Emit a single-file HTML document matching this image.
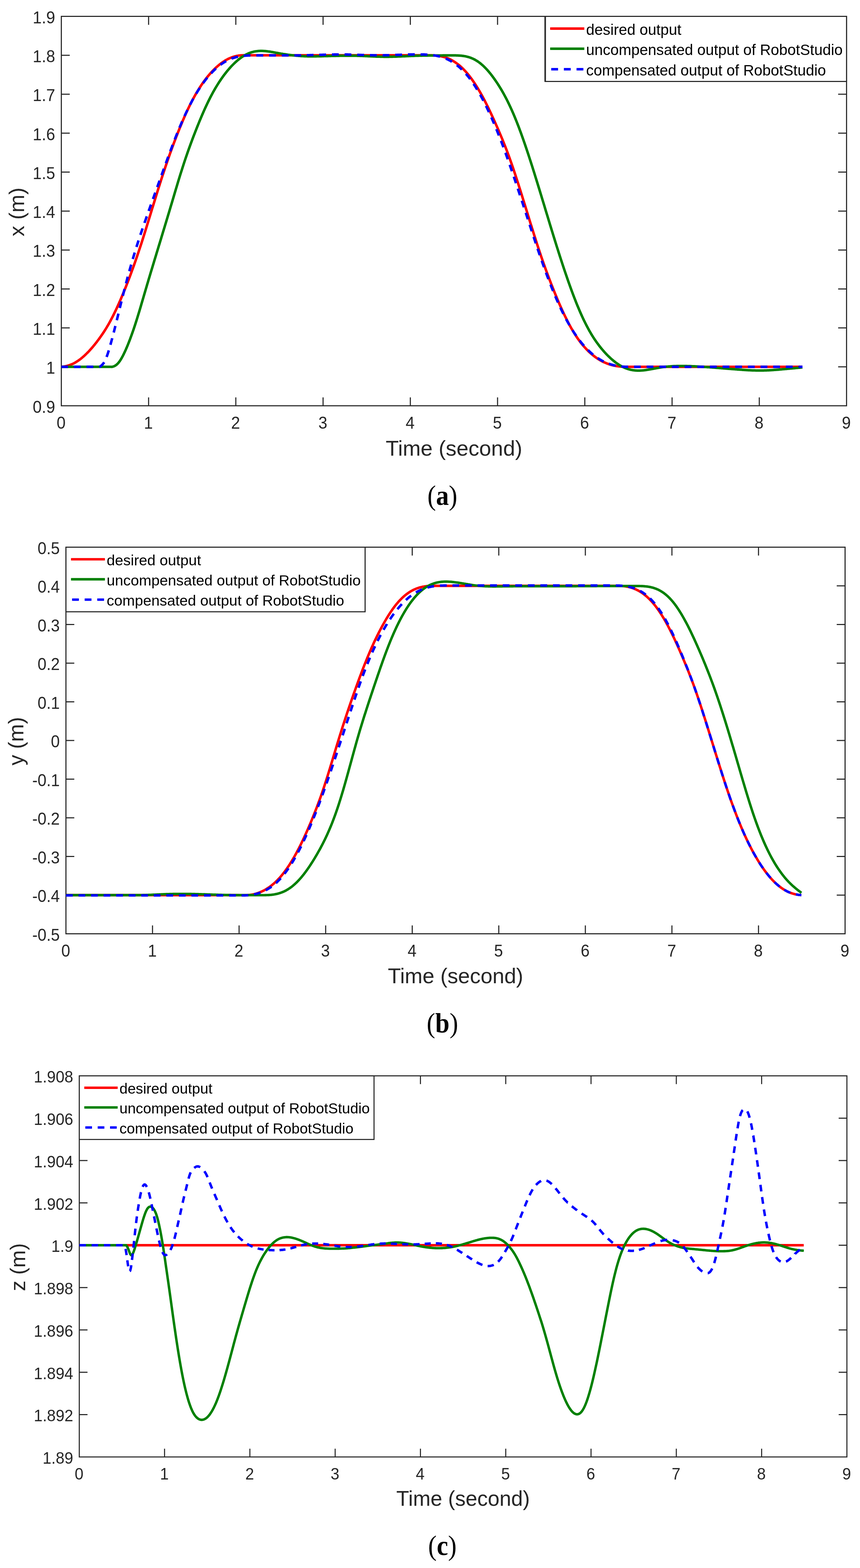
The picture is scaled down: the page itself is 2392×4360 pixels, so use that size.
<!DOCTYPE html>
<html lang="en"><head><meta charset="utf-8"><title>Figure</title>
<style>html,body{margin:0;padding:0;background:#fff}svg{display:block}text{font-family:"Liberation Sans",sans-serif}.cap{font-family:"Liberation Serif",serif;fill:#000}.tk{fill:#262626}.lg{fill:#000}</style></head><body>
<svg width="2392" height="4360" viewBox="0 0 2392 4360">
<rect width="2392" height="4360" fill="#fff"/>
<g id="plot-a">
<path d="M413.3,1128.3 v-23.4 M413.3,45.5 v23.4 M655.9,1128.3 v-23.4 M655.9,45.5 v23.4 M898.6,1128.3 v-23.4 M898.6,45.5 v23.4 M1141.3,1128.3 v-23.4 M1141.3,45.5 v23.4 M1383.9,1128.3 v-23.4 M1383.9,45.5 v23.4 M1626.6,1128.3 v-23.4 M1626.6,45.5 v23.4 M1869.3,1128.3 v-23.4 M1869.3,45.5 v23.4 M2111.9,1128.3 v-23.4 M2111.9,45.5 v23.4 M170.6,1020 h23.4 M2354.6,1020 h-23.4 M170.6,911.7 h23.4 M2354.6,911.7 h-23.4 M170.6,803.5 h23.4 M2354.6,803.5 h-23.4 M170.6,695.2 h23.4 M2354.6,695.2 h-23.4 M170.6,586.9 h23.4 M2354.6,586.9 h-23.4 M170.6,478.6 h23.4 M2354.6,478.6 h-23.4 M170.6,370.3 h23.4 M2354.6,370.3 h-23.4 M170.6,262.1 h23.4 M2354.6,262.1 h-23.4 M170.6,153.8 h23.4 M2354.6,153.8 h-23.4" stroke="#262626" stroke-width="3" fill="none"/>
<rect x="170.6" y="45.5" width="2184" height="1082.8" fill="none" stroke="#262626" stroke-width="3"/>
<g fill="none" stroke-linejoin="round" stroke-width="7">
<path d="M170.6,1019.9 172.6,1019.7 174.6,1019.5 176.6,1019.3 178.6,1019 180.6,1018.7 182.6,1018.3 184.6,1017.8 186.6,1017.3 188.6,1016.8 190.6,1016.2 192.6,1015.6 194.6,1014.9 196.6,1014.1 198.6,1013.3 200.6,1012.5 202.6,1011.6 204.6,1010.6 206.6,1009.6 208.6,1008.5 210.6,1007.3 212.6,1006.1 214.6,1004.8 216.6,1003.5 218.6,1002.1 220.6,1000.7 222.6,999.2 224.6,997.7 226.6,996.1 228.6,994.4 230.6,992.7 232.6,991 234.6,989.2 236.6,987.3 238.6,985.4 240.6,983.4 242.6,981.4 244.7,979.4 246.7,977.3 248.7,975.1 250.7,972.9 252.7,970.7 254.7,968.4 256.7,966.1 258.7,963.7 260.7,961.3 262.7,958.9 264.7,956.4 266.7,953.9 268.7,951.3 270.7,948.7 272.7,946 274.7,943.4 276.7,940.6 278.7,937.8 280.7,935 282.7,932.1 284.7,929.2 286.7,926.2 288.7,923.2 290.7,920.1 292.7,917 294.7,913.7 296.7,910.5 298.7,907.1 300.7,903.7 302.7,900.2 304.7,896.6 306.7,893 308.7,889.2 310.7,885.4 312.7,881.6 314.7,877.6 316.7,873.6 318.7,869.5 320.7,865.4 322.7,861.2 324.7,856.9 326.7,852.5 328.7,848.1 330.7,843.7 332.7,839.1 334.7,834.6 336.7,829.9 338.7,825.2 340.7,820.4 342.7,815.6 344.7,810.8 346.7,805.9 348.7,800.9 350.7,795.9 352.7,790.8 354.7,785.7 356.7,780.5 358.7,775.3 360.7,770 362.7,764.7 364.7,759.3 366.7,753.9 368.7,748.4 370.7,742.9 372.7,737.3 374.7,731.6 376.7,725.9 378.7,720.1 380.7,714.3 382.7,708.4 384.7,702.5 386.7,696.5 388.7,690.4 390.7,684.3 392.8,678.1 394.8,671.9 396.8,665.6 398.8,659.3 400.8,653 402.8,646.6 404.8,640.2 406.8,633.7 408.8,627.3 410.8,620.8 412.8,614.3 414.8,607.8 416.8,601.2 418.8,594.7 420.8,588.2 422.8,581.6 424.8,575.1 426.8,568.6 428.8,562.1 430.8,555.6 432.8,549.1 434.8,542.7 436.8,536.2 438.8,529.8 440.8,523.4 442.8,517.1 444.8,510.8 446.8,504.5 448.8,498.3 450.8,492.1 452.8,485.9 454.8,479.8 456.8,473.8 458.8,467.8 460.8,461.8 462.8,456 464.8,450.1 466.8,444.3 468.8,438.6 470.8,433 472.8,427.3 474.8,421.8 476.8,416.3 478.8,410.8 480.8,405.4 482.8,400.1 484.8,394.7 486.8,389.5 488.8,384.3 490.8,379.1 492.8,374 494.8,368.9 496.8,363.9 498.8,358.9 500.8,354 502.8,349.1 504.8,344.3 506.8,339.5 508.8,334.7 510.8,330.1 512.8,325.4 514.8,320.9 516.8,316.4 518.8,312 520.8,307.7 522.8,303.4 524.8,299.2 526.8,295.1 528.8,291 530.8,287 532.8,283.1 534.8,279.2 536.8,275.5 538.9,271.8 540.9,268.1 542.9,264.6 544.9,261.1 546.9,257.6 548.9,254.3 550.9,251 552.9,247.7 554.9,244.6 556.9,241.5 558.9,238.4 560.9,235.4 562.9,232.5 564.9,229.7 566.9,226.9 568.9,224.1 570.9,221.5 572.9,218.8 574.9,216.3 576.9,213.8 578.9,211.3 580.9,208.9 582.9,206.6 584.9,204.3 586.9,202 588.9,199.9 590.9,197.7 592.9,195.7 594.9,193.6 596.9,191.7 598.9,189.7 600.9,187.9 602.9,186 604.9,184.3 606.9,182.5 608.9,180.9 610.9,179.2 612.9,177.7 614.9,176.1 616.9,174.7 618.9,173.3 620.9,171.9 622.9,170.6 624.9,169.3 626.9,168.1 628.9,166.9 630.9,165.8 632.9,164.7 634.9,163.7 636.9,162.8 638.9,161.9 640.9,161 642.9,160.2 644.9,159.4 646.9,158.7 648.9,158.1 650.9,157.5 652.9,156.9 654.9,156.4 656.9,155.9 658.9,155.5 660.9,155.2 662.9,154.8 664.9,154.5 666.9,154.3 668.9,154.1 670.9,154 672.9,153.8 674.9,153.7 676.9,153.7 678.9,153.7 680.9,153.6 682.9,153.7 684.9,153.7 687,153.7 689,153.7 691,153.7 693,153.7 695,153.7 697,153.8 699,153.8 701,153.8 703,153.8 705,153.8 707,153.8 709,153.8 711,153.8 713,153.8 715,153.8 717,153.8 719,153.8 721,153.8 723,153.8 725,153.8 727,153.8 729,153.8 731,153.8 733,153.8 735,153.8 737,153.8 739,153.8 741,153.8 743,153.8 745,153.8 747,153.8 749,153.8 751,153.8 753,153.8 755,153.8 757,153.8 759,153.8 761,153.8 763,153.8 765,153.8 767,153.8 769,153.8 771,153.8 773,153.8 775,153.8 777,153.8 779,153.8 781,153.8 783,153.8 785,153.8 787,153.8 789,153.8 791,153.8 793,153.8 795,153.8 797,153.8 799,153.8 801,153.8 803,153.8 805,153.8 807,153.8 809,153.8 811,153.8 813,153.8 815,153.8 817,153.8 819,153.8 821,153.8 823,153.8 825,153.8 827,153.8 829,153.8 831,153.8 833,153.8 835.1,153.8 837.1,153.8 839.1,153.8 841.1,153.8 843.1,153.8 845.1,153.8 847.1,153.8 849.1,153.8 851.1,153.8 853.1,153.8 855.1,153.8 857.1,153.8 859.1,153.8 861.1,153.8 863.1,153.8 865.1,153.8 867.1,153.8 869.1,153.8 871.1,153.8 873.1,153.8 875.1,153.8 877.1,153.8 879.1,153.8 881.1,153.8 883.1,153.8 885.1,153.8 887.1,153.8 889.1,153.8 891.1,153.8 893.1,153.8 895.1,153.8 897.1,153.8 899.1,153.8 901.1,153.8 903.1,153.8 905.1,153.8 907.1,153.8 909.1,153.8 911.1,153.8 913.1,153.8 915.1,153.8 917.1,153.8 919.1,153.8 921.1,153.8 923.1,153.8 925.1,153.8 927.1,153.8 929.1,153.8 931.1,153.8 933.1,153.8 935.1,153.8 937.1,153.8 939.1,153.8 941.1,153.8 943.1,153.8 945.1,153.8 947.1,153.8 949.1,153.8 951.1,153.8 953.1,153.8 955.1,153.8 957.1,153.8 959.1,153.8 961.1,153.8 963.1,153.8 965.1,153.8 967.1,153.8 969.1,153.8 971.1,153.8 973.1,153.8 975.1,153.8 977.1,153.8 979.1,153.8 981.2,153.8 983.2,153.8 985.2,153.8 987.2,153.8 989.2,153.8 991.2,153.8 993.2,153.8 995.2,153.8 997.2,153.8 999.2,153.8 1001.2,153.8 1003.2,153.8 1005.2,153.8 1007.2,153.8 1009.2,153.8 1011.2,153.8 1013.2,153.8 1015.2,153.8 1017.2,153.8 1019.2,153.8 1021.2,153.8 1023.2,153.8 1025.2,153.8 1027.2,153.8 1029.2,153.8 1031.2,153.8 1033.2,153.8 1035.2,153.8 1037.2,153.8 1039.2,153.8 1041.2,153.8 1043.2,153.8 1045.2,153.8 1047.2,153.8 1049.2,153.8 1051.2,153.8 1053.2,153.8 1055.2,153.8 1057.2,153.8 1059.2,153.8 1061.2,153.8 1063.2,153.8 1065.2,153.8 1067.2,153.8 1069.2,153.8 1071.2,153.8 1073.2,153.8 1075.2,153.8 1077.2,153.8 1079.2,153.8 1081.2,153.8 1083.2,153.8 1085.2,153.8 1087.2,153.8 1089.2,153.8 1091.2,153.8 1093.2,153.8 1095.2,153.8 1097.2,153.8 1099.2,153.8 1101.2,153.8 1103.2,153.8 1105.2,153.8 1107.2,153.8 1109.2,153.8 1111.2,153.8 1113.2,153.8 1115.2,153.8 1117.2,153.8 1119.2,153.8 1121.2,153.8 1123.2,153.8 1125.2,153.8 1127.2,153.8 1129.3,153.8 1131.3,153.8 1133.3,153.8 1135.3,153.8 1137.3,153.8 1139.3,153.8 1141.3,153.8 1143.3,153.8 1145.3,153.8 1147.3,153.8 1149.3,153.8 1151.3,153.8 1153.3,153.8 1155.3,153.8 1157.3,153.8 1159.3,153.8 1161.3,153.8 1163.3,153.8 1165.3,153.8 1167.3,153.8 1169.3,153.8 1171.3,153.8 1173.3,153.8 1175.3,153.8 1177.3,153.8 1179.3,153.8 1181.3,153.8 1183.3,153.8 1185.3,153.7 1187.3,153.7 1189.3,153.7 1191.3,153.7 1193.3,153.7 1195.3,153.7 1197.3,153.8 1199.3,153.8 1201.3,153.8 1203.3,153.9 1205.3,154 1207.3,154.1 1209.3,154.2 1211.3,154.4 1213.3,154.6 1215.3,154.8 1217.3,155 1219.3,155.2 1221.3,155.5 1223.3,155.8 1225.3,156.2 1227.3,156.6 1229.3,157 1231.3,157.5 1233.3,158 1235.3,158.6 1237.3,159.2 1239.3,159.8 1241.3,160.5 1243.3,161.2 1245.3,162 1247.3,162.9 1249.3,163.8 1251.3,164.7 1253.3,165.7 1255.3,166.7 1257.3,167.8 1259.3,169 1261.3,170.2 1263.3,171.4 1265.3,172.7 1267.3,174.1 1269.3,175.5 1271.3,177 1273.3,178.5 1275.4,180.1 1277.4,181.7 1279.4,183.4 1281.4,185.2 1283.4,187 1285.4,188.9 1287.4,190.8 1289.4,192.8 1291.4,194.9 1293.4,197 1295.4,199.2 1297.4,201.5 1299.4,203.8 1301.4,206.2 1303.4,208.7 1305.4,211.2 1307.4,213.8 1309.4,216.4 1311.4,219.1 1313.4,221.9 1315.4,224.8 1317.4,227.7 1319.4,230.6 1321.4,233.7 1323.4,236.8 1325.4,239.9 1327.4,243.1 1329.4,246.4 1331.4,249.7 1333.4,253.1 1335.4,256.6 1337.4,260.1 1339.4,263.7 1341.4,267.3 1343.4,271 1345.4,274.7 1347.4,278.5 1349.4,282.4 1351.4,286.3 1353.4,290.3 1355.4,294.3 1357.4,298.4 1359.4,302.5 1361.4,306.7 1363.4,310.9 1365.4,315.1 1367.4,319.4 1369.4,323.7 1371.4,328.1 1373.4,332.5 1375.4,336.9 1377.4,341.4 1379.4,345.9 1381.4,350.4 1383.4,354.9 1385.4,359.5 1387.4,364.1 1389.4,368.8 1391.4,373.5 1393.4,378.3 1395.4,383 1397.4,387.9 1399.4,392.8 1401.4,397.7 1403.4,402.7 1405.4,407.8 1407.4,413 1409.4,418.2 1411.4,423.5 1413.4,428.9 1415.4,434.3 1417.4,439.9 1419.4,445.5 1421.4,451.2 1423.5,457 1425.5,462.8 1427.5,468.7 1429.5,474.6 1431.5,480.7 1433.5,486.7 1435.5,492.8 1437.5,499 1439.5,505.2 1441.5,511.4 1443.5,517.7 1445.5,524 1447.5,530.4 1449.5,536.7 1451.5,543.1 1453.5,549.5 1455.5,556 1457.5,562.4 1459.5,568.9 1461.5,575.4 1463.5,581.9 1465.5,588.3 1467.5,594.8 1469.5,601.3 1471.5,607.8 1473.5,614.2 1475.5,620.7 1477.5,627.1 1479.5,633.5 1481.5,639.9 1483.5,646.3 1485.5,652.6 1487.5,658.9 1489.5,665.2 1491.5,671.5 1493.5,677.7 1495.5,683.8 1497.5,689.9 1499.5,696 1501.5,702 1503.5,708 1505.5,713.8 1507.5,719.7 1509.5,725.5 1511.5,731.2 1513.5,736.8 1515.5,742.4 1517.5,748 1519.5,753.4 1521.5,758.9 1523.5,764.3 1525.5,769.6 1527.5,774.9 1529.5,780.1 1531.5,785.3 1533.5,790.5 1535.5,795.6 1537.5,800.6 1539.5,805.6 1541.5,810.6 1543.5,815.5 1545.5,820.4 1547.5,825.2 1549.5,830 1551.5,834.8 1553.5,839.5 1555.5,844.1 1557.5,848.7 1559.5,853.2 1561.5,857.7 1563.5,862.1 1565.5,866.5 1567.5,870.8 1569.6,875 1571.6,879.2 1573.6,883.3 1575.6,887.3 1577.6,891.3 1579.6,895.2 1581.6,899.1 1583.6,902.8 1585.6,906.5 1587.6,910.1 1589.6,913.7 1591.6,917.1 1593.6,920.5 1595.6,923.8 1597.6,927.1 1599.6,930.2 1601.6,933.3 1603.6,936.3 1605.6,939.3 1607.6,942.2 1609.6,945 1611.6,947.7 1613.6,950.4 1615.6,953 1617.6,955.5 1619.6,958 1621.6,960.4 1623.6,962.7 1625.6,965 1627.6,967.2 1629.6,969.4 1631.6,971.5 1633.6,973.6 1635.6,975.6 1637.6,977.5 1639.6,979.4 1641.6,981.2 1643.6,983 1645.6,984.7 1647.6,986.4 1649.6,988 1651.6,989.6 1653.6,991.1 1655.6,992.6 1657.6,994.1 1659.6,995.5 1661.6,996.8 1663.6,998.1 1665.6,999.4 1667.6,1000.6 1669.6,1001.7 1671.6,1002.9 1673.6,1004 1675.6,1005 1677.6,1006 1679.6,1007 1681.6,1007.9 1683.6,1008.8 1685.6,1009.6 1687.6,1010.4 1689.6,1011.2 1691.6,1011.9 1693.6,1012.6 1695.6,1013.3 1697.6,1013.9 1699.6,1014.5 1701.6,1015.1 1703.6,1015.6 1705.6,1016.1 1707.6,1016.5 1709.6,1016.9 1711.6,1017.3 1713.6,1017.7 1715.6,1018 1717.7,1018.3 1719.7,1018.5 1721.7,1018.8 1723.7,1019 1725.7,1019.2 1727.7,1019.4 1729.7,1019.5 1731.7,1019.6 1733.7,1019.7 1735.7,1019.8 1737.7,1019.9 1739.7,1019.9 1741.7,1020 1743.7,1020 1745.7,1020 1747.7,1020.1 1749.7,1020.1 1751.7,1020.1 1753.7,1020.1 1755.7,1020 1757.7,1020 1759.7,1020 1761.7,1020 1763.7,1020 1765.7,1020 1767.7,1020 1769.7,1020 1771.7,1020 1773.7,1020 1775.7,1020 1777.7,1020 1779.7,1020 1781.7,1020 1783.7,1020 1785.7,1020 1787.7,1020 1789.7,1020 1791.7,1020 1793.7,1020 1795.7,1020 1797.7,1020 1799.7,1020 1801.7,1020 1803.7,1020 1805.7,1020 1807.7,1020 1809.7,1020 1811.7,1020 1813.7,1020 1815.7,1020 1817.7,1020 1819.7,1020 1821.7,1020 1823.7,1020 1825.7,1020 1827.7,1020 1829.7,1020 1831.7,1020 1833.7,1020 1835.7,1020 1837.7,1020 1839.7,1020 1841.7,1020 1843.7,1020 1845.7,1020 1847.7,1020 1849.7,1020 1851.7,1020 1853.7,1020 1855.7,1020 1857.7,1020 1859.7,1020 1861.7,1020 1863.7,1020 1865.8,1020 1867.8,1020 1869.8,1020 1871.8,1020 1873.8,1020 1875.8,1020 1877.8,1020 1879.8,1020 1881.8,1020 1883.8,1020 1885.8,1020 1887.8,1020 1889.8,1020 1891.8,1020 1893.8,1020 1895.8,1020 1897.8,1020 1899.8,1020 1901.8,1020 1903.8,1020 1905.8,1020 1907.8,1020 1909.8,1020 1911.8,1020 1913.8,1020 1915.8,1020 1917.8,1020 1919.8,1020 1921.8,1020 1923.8,1020 1925.8,1020 1927.8,1020 1929.8,1020 1931.8,1020 1933.8,1020 1935.8,1020 1937.8,1020 1939.8,1020 1941.8,1020 1943.8,1020 1945.8,1020 1947.8,1020 1949.8,1020 1951.8,1020 1953.8,1020 1955.8,1020 1957.8,1020 1959.8,1020 1961.8,1020 1963.8,1020 1965.8,1020 1967.8,1020 1969.8,1020 1971.8,1020 1973.8,1020 1975.8,1020 1977.8,1020 1979.8,1020 1981.8,1020 1983.8,1020 1985.8,1020 1987.8,1020 1989.8,1020 1991.8,1020 1993.8,1020 1995.8,1020 1997.8,1020 1999.8,1020 2001.8,1020 2003.8,1020 2005.8,1020 2007.8,1020 2009.8,1020 2011.9,1020 2013.9,1020 2015.9,1020 2017.9,1020 2019.9,1020 2021.9,1020 2023.9,1020 2025.9,1020 2027.9,1020 2029.9,1020 2031.9,1020 2033.9,1020 2035.9,1020 2037.9,1020 2039.9,1020 2041.9,1020 2043.9,1020 2045.9,1020 2047.9,1020 2049.9,1020 2051.9,1020 2053.9,1020 2055.9,1020 2057.9,1020 2059.9,1020 2061.9,1020 2063.9,1020 2065.9,1020 2067.9,1020 2069.9,1020 2071.9,1020 2073.9,1020 2075.9,1020 2077.9,1020 2079.9,1020 2081.9,1020 2083.9,1020 2085.9,1020 2087.9,1020 2089.9,1020 2091.9,1020 2093.9,1020 2095.9,1020 2097.9,1020 2099.9,1020 2101.9,1020 2103.9,1020 2105.9,1020 2107.9,1020 2109.9,1020 2111.9,1020 2113.9,1020 2115.9,1020 2117.9,1020 2119.9,1020 2121.9,1020 2123.9,1020 2125.9,1020 2127.9,1020 2129.9,1020 2131.9,1020 2133.9,1020 2135.9,1020 2137.9,1020 2139.9,1020 2141.9,1020 2143.9,1020 2145.9,1020 2147.9,1020 2149.9,1020 2151.9,1020 2153.9,1020 2155.9,1020 2157.9,1020 2160,1020 2162,1020 2164,1020 2166,1020 2168,1020 2170,1020 2172,1020 2174,1020 2176,1020 2178,1020 2180,1020 2182,1020 2184,1020 2186,1020 2188,1020 2190,1020 2192,1020 2194,1020 2196,1020 2198,1020 2200,1020 2202,1020 2204,1020 2206,1020 2208,1020 2210,1020 2212,1020 2214,1020 2216,1020 2218,1020 2220,1020 2222,1020 2224,1020 2226,1020 2228,1020 2230,1020 2232,1020" stroke="#ff0000"/>
<path d="M170.6,1020 172.6,1020 174.6,1020 176.6,1020 178.7,1020 180.7,1020 182.7,1020 184.7,1020 186.7,1020 188.7,1020 190.7,1020 192.7,1020 194.8,1020 196.8,1020 198.8,1020 200.8,1020 202.8,1020 204.8,1020 206.8,1020 208.8,1020 210.9,1020 212.9,1020 214.9,1020 216.9,1020 218.9,1020 220.9,1020 222.9,1020 225,1020 227,1020 229,1020 231,1020 233,1020 235,1020 237,1020 239,1020 241.1,1020 243.1,1020 245.1,1020 247.1,1020 249.1,1020 251.1,1020 253.1,1020 255.1,1020 257.2,1020 259.2,1020 261.2,1020 263.2,1020 265.2,1020 267.2,1020 269.2,1020 271.3,1020 273.3,1020 275.3,1020 277.3,1020 279.3,1020 281.3,1020 283.3,1020 285.3,1020 287.4,1020 289.4,1020 291.4,1020 293.4,1020 295.4,1020 297.4,1020 299.4,1020 301.4,1020 303.5,1020 305.5,1020 307.5,1020 309.5,1020 311.5,1020.2 313.5,1019.7 315.5,1019 317.5,1018.3 319.5,1017.3 321.5,1016.1 323.5,1014.7 325.5,1013 327.5,1011 329.5,1008.8 331.5,1006.3 333.5,1003.4 335.5,1000.4 337.5,997.1 339.5,993.5 341.5,989.8 343.5,985.9 345.5,981.8 347.5,977.5 349.5,973.1 351.5,968.5 353.5,963.8 355.5,959 357.5,954 359.5,948.9 361.5,943.7 363.5,938.3 365.5,932.9 367.5,927.3 369.5,921.6 371.5,915.8 373.5,909.9 375.5,903.8 377.5,897.7 379.5,891.4 381.5,885 383.5,878.5 385.5,872 387.5,865.4 389.5,858.7 391.5,851.9 393.5,845.1 395.5,838.3 397.5,831.5 399.5,824.6 401.5,817.8 403.5,811 405.5,804.1 407.5,797.4 409.5,790.6 411.5,783.9 413.5,777.1 415.5,770.5 417.5,763.8 419.5,757.1 421.5,750.5 423.5,743.9 425.5,737.3 427.5,730.7 429.5,724.1 431.5,717.5 433.5,710.9 435.5,704.3 437.5,697.8 439.5,691.2 441.5,684.6 443.5,678.1 445.5,671.5 447.5,664.9 449.5,658.3 451.5,651.7 453.5,645.1 455.5,638.5 457.5,631.9 459.5,625.3 461.5,618.7 463.5,612.1 465.5,605.5 467.5,598.8 469.5,592.2 471.5,585.5 473.5,578.8 475.5,572.1 477.5,565.4 479.5,558.7 481.5,552 483.5,545.3 485.5,538.6 487.5,531.8 489.5,525.1 491.5,518.4 493.5,511.8 495.5,505.1 497.5,498.5 499.5,492 501.5,485.5 503.6,479 505.6,472.7 507.6,466.4 509.6,460.2 511.6,454 513.6,448 515.6,442 517.6,436.1 519.6,430.3 521.6,424.5 523.6,418.8 525.6,413.2 527.6,407.7 529.6,402.2 531.6,396.7 533.6,391.4 535.6,386.1 537.6,380.8 539.6,375.6 541.6,370.4 543.6,365.3 545.6,360.2 547.6,355.1 549.6,350.1 551.6,345.2 553.6,340.3 555.6,335.4 557.6,330.6 559.6,325.8 561.6,321.1 563.6,316.5 565.6,311.9 567.6,307.4 569.6,302.9 571.6,298.5 573.6,294.2 575.6,289.9 577.6,285.7 579.6,281.6 581.6,277.6 583.6,273.6 585.6,269.7 587.6,265.8 589.6,262.1 591.6,258.4 593.6,254.7 595.6,251.2 597.6,247.7 599.6,244.3 601.6,241 603.6,237.7 605.6,234.5 607.6,231.3 609.6,228.2 611.6,225.2 613.6,222.2 615.6,219.3 617.6,216.4 619.6,213.6 621.6,210.9 623.6,208.2 625.6,205.6 627.6,203 629.6,200.5 631.6,198 633.6,195.5 635.6,193.2 637.6,190.9 639.6,188.6 641.6,186.4 643.6,184.2 645.6,182.1 647.6,180.1 649.6,178.1 651.6,176.1 653.6,174.2 655.6,172.4 657.6,170.6 659.6,168.9 661.6,167.2 663.6,165.5 665.6,163.9 667.6,162.4 669.6,160.9 671.6,159.5 673.6,158.1 675.6,156.8 677.6,155.6 679.6,154.3 681.6,153.2 683.6,152.1 685.6,151.1 687.6,150.1 689.6,149.2 691.6,148.3 693.6,147.5 695.6,146.7 697.6,146.1 699.6,145.4 701.6,144.8 703.6,144.3 705.6,143.8 707.6,143.4 709.6,143 711.6,142.7 713.6,142.4 715.6,142.2 717.6,142 719.6,141.8 721.6,141.7 723.6,141.6 725.6,141.6 727.6,141.6 729.6,141.6 731.6,141.7 733.6,141.8 735.6,141.9 737.6,142.1 739.6,142.3 741.6,142.5 743.6,142.7 745.6,143 747.6,143.2 749.6,143.5 751.6,143.8 753.6,144.1 755.6,144.5 757.6,144.8 759.6,145.1 761.6,145.5 763.6,145.9 765.6,146.2 767.6,146.6 769.6,146.9 771.6,147.3 773.6,147.7 775.6,148 777.6,148.4 779.6,148.7 781.6,149.1 783.6,149.4 785.6,149.7 787.6,150.1 789.6,150.4 791.6,150.7 793.6,151 795.6,151.3 797.6,151.6 799.6,151.9 801.6,152.2 803.6,152.4 805.6,152.7 807.6,153 809.6,153.2 811.6,153.5 813.6,153.7 815.6,153.9 817.6,154.1 819.6,154.3 821.6,154.5 823.6,154.7 825.6,154.9 827.6,155.1 829.6,155.3 831.6,155.4 833.6,155.6 835.6,155.7 837.6,155.9 839.6,156 841.6,156.1 843.6,156.2 845.6,156.3 847.6,156.4 849.6,156.5 851.6,156.5 853.6,156.6 855.6,156.7 857.6,156.7 859.6,156.7 861.6,156.8 863.6,156.8 865.6,156.8 867.6,156.8 869.6,156.8 871.6,156.8 873.6,156.8 875.6,156.7 877.6,156.7 879.6,156.7 881.6,156.6 883.6,156.6 885.6,156.6 887.7,156.5 889.7,156.5 891.7,156.4 893.7,156.4 895.7,156.3 897.7,156.2 899.7,156.2 901.7,156.1 903.7,156.1 905.7,156 907.7,156 909.7,155.9 911.7,155.9 913.7,155.8 915.7,155.8 917.7,155.7 919.7,155.7 921.7,155.6 923.7,155.6 925.7,155.5 927.7,155.5 929.7,155.4 931.7,155.4 933.7,155.4 935.7,155.3 937.7,155.3 939.7,155.2 941.7,155.2 943.7,155.2 945.7,155.1 947.7,155.1 949.7,155.1 951.7,155.1 953.7,155 955.7,155 957.7,155 959.7,155 961.7,155 963.7,155 965.7,154.9 967.7,154.9 969.7,154.9 971.7,154.9 973.7,154.9 975.7,155 977.7,155 979.7,155 981.7,155 983.7,155 985.7,155 987.7,155.1 989.7,155.1 991.7,155.1 993.7,155.2 995.7,155.2 997.7,155.3 999.7,155.3 1001.7,155.4 1003.7,155.5 1005.7,155.5 1007.7,155.6 1009.7,155.7 1011.7,155.8 1013.7,155.8 1015.7,155.9 1017.7,156 1019.7,156.1 1021.7,156.2 1023.7,156.3 1025.7,156.4 1027.7,156.5 1029.7,156.6 1031.7,156.7 1033.7,156.8 1035.7,156.8 1037.7,156.9 1039.7,157 1041.7,157.1 1043.7,157.2 1045.7,157.3 1047.7,157.4 1049.7,157.4 1051.7,157.5 1053.7,157.6 1055.7,157.6 1057.7,157.7 1059.7,157.7 1061.7,157.8 1063.7,157.8 1065.7,157.8 1067.7,157.9 1069.7,157.9 1071.7,157.9 1073.7,157.9 1075.7,157.9 1077.7,157.9 1079.7,157.9 1081.7,157.9 1083.7,157.8 1085.7,157.8 1087.7,157.8 1089.7,157.7 1091.7,157.7 1093.7,157.6 1095.7,157.6 1097.7,157.5 1099.7,157.4 1101.7,157.4 1103.7,157.3 1105.7,157.2 1107.7,157.1 1109.7,157.1 1111.7,157 1113.7,156.9 1115.7,156.8 1117.7,156.7 1119.7,156.6 1121.7,156.5 1123.7,156.4 1125.7,156.4 1127.7,156.3 1129.7,156.2 1131.7,156.1 1133.7,156 1135.7,155.9 1137.7,155.8 1139.7,155.7 1141.7,155.7 1143.7,155.6 1145.7,155.5 1147.7,155.4 1149.7,155.4 1151.7,155.3 1153.7,155.2 1155.7,155.1 1157.7,155.1 1159.7,155 1161.7,155 1163.7,154.9 1165.7,154.8 1167.7,154.8 1169.7,154.7 1171.7,154.7 1173.7,154.7 1175.7,154.6 1177.7,154.6 1179.7,154.5 1181.7,154.5 1183.7,154.5 1185.7,154.4 1187.7,154.4 1189.7,154.4 1191.7,154.3 1193.7,154.3 1195.7,154.3 1197.7,154.3 1199.7,154.3 1201.7,154.2 1203.7,154.2 1205.7,154.2 1207.7,154.2 1209.7,154.2 1211.7,154.2 1213.7,154.2 1215.7,154.2 1217.7,154.2 1219.7,154.2 1221.7,154.2 1223.7,154.2 1225.7,154.2 1227.7,154.2 1229.7,154.2 1231.7,154.1 1233.7,154.1 1235.7,154.1 1237.7,154.1 1239.7,154.1 1241.7,154.1 1243.7,154.1 1245.7,154.1 1247.7,154.1 1249.7,154 1251.7,154 1253.7,154 1255.7,154 1257.7,154 1259.7,154 1261.7,154 1263.7,154.1 1265.7,154.1 1267.7,154.1 1269.7,154.2 1271.8,154.2 1273.8,154.3 1275.8,154.4 1277.8,154.5 1279.8,154.7 1281.8,154.8 1283.8,155 1285.8,155.2 1287.8,155.5 1289.8,155.8 1291.8,156.1 1293.8,156.4 1295.8,156.8 1297.8,157.3 1299.8,157.8 1301.8,158.3 1303.8,158.9 1305.8,159.5 1307.8,160.2 1309.8,160.9 1311.8,161.7 1313.8,162.6 1315.8,163.5 1317.8,164.4 1319.8,165.5 1321.8,166.5 1323.8,167.7 1325.8,168.9 1327.8,170.2 1329.8,171.5 1331.8,173 1333.8,174.4 1335.8,176 1337.8,177.6 1339.8,179.3 1341.8,181 1343.8,182.8 1345.8,184.7 1347.8,186.7 1349.8,188.7 1351.8,190.8 1353.8,192.9 1355.8,195.1 1357.8,197.4 1359.8,199.8 1361.8,202.2 1363.8,204.6 1365.8,207.2 1367.8,209.7 1369.8,212.4 1371.8,215.1 1373.8,217.8 1375.8,220.6 1377.8,223.5 1379.8,226.4 1381.8,229.4 1383.8,232.4 1385.8,235.5 1387.8,238.6 1389.8,241.8 1391.8,245.1 1393.8,248.4 1395.8,251.8 1397.8,255.3 1399.8,258.8 1401.8,262.4 1403.8,266.1 1405.8,269.8 1407.8,273.6 1409.8,277.5 1411.8,281.5 1413.8,285.6 1415.8,289.7 1417.8,293.9 1419.8,298.2 1421.8,302.6 1423.8,307 1425.8,311.6 1427.8,316.2 1429.8,320.9 1431.8,325.7 1433.8,330.6 1435.8,335.5 1437.8,340.5 1439.8,345.6 1441.8,350.8 1443.8,356.1 1445.8,361.4 1447.8,366.8 1449.8,372.3 1451.8,377.9 1453.8,383.5 1455.8,389.1 1457.8,394.9 1459.8,400.7 1461.8,406.5 1463.8,412.4 1465.8,418.4 1467.8,424.4 1469.8,430.4 1471.8,436.5 1473.8,442.7 1475.8,448.9 1477.8,455.1 1479.8,461.3 1481.8,467.6 1483.8,474 1485.8,480.3 1487.8,486.7 1489.8,493.2 1491.8,499.6 1493.8,506.1 1495.8,512.6 1497.8,519.1 1499.8,525.6 1501.8,532.1 1503.8,538.7 1505.8,545.3 1507.8,551.9 1509.8,558.5 1511.8,565 1513.8,571.6 1515.8,578.2 1517.8,584.9 1519.8,591.5 1521.8,598 1523.8,604.6 1525.8,611.2 1527.8,617.8 1529.8,624.4 1531.8,630.9 1533.8,637.5 1535.8,644 1537.8,650.5 1539.8,657 1541.8,663.4 1543.8,669.9 1545.8,676.3 1547.8,682.7 1549.8,689 1551.8,695.3 1553.8,701.6 1555.8,707.9 1557.8,714.1 1559.8,720.3 1561.8,726.4 1563.8,732.5 1565.8,738.6 1567.8,744.6 1569.8,750.6 1571.8,756.5 1573.8,762.4 1575.8,768.2 1577.8,774 1579.8,779.8 1581.8,785.5 1583.8,791.1 1585.8,796.7 1587.8,802.2 1589.8,807.7 1591.8,813.1 1593.8,818.4 1595.8,823.7 1597.8,828.9 1599.8,834.1 1601.8,839.2 1603.8,844.2 1605.8,849.1 1607.8,853.9 1609.8,858.7 1611.8,863.4 1613.8,868 1615.8,872.5 1617.8,877 1619.8,881.4 1621.8,885.7 1623.8,889.9 1625.8,894 1627.8,898 1629.8,902 1631.8,905.9 1633.8,909.7 1635.8,913.4 1637.8,917.1 1639.8,920.7 1641.8,924.1 1643.8,927.6 1645.8,930.9 1647.8,934.2 1649.8,937.3 1651.8,940.5 1653.8,943.5 1655.9,946.5 1657.9,949.4 1659.9,952.2 1661.9,955 1663.9,957.7 1665.9,960.4 1667.9,963 1669.9,965.5 1671.9,968 1673.9,970.5 1675.9,972.8 1677.9,975.2 1679.9,977.4 1681.9,979.7 1683.9,981.8 1685.9,984 1687.9,986.1 1689.9,988.1 1691.9,990.1 1693.9,992 1695.9,993.9 1697.9,995.8 1699.9,997.6 1701.9,999.3 1703.9,1001.1 1705.9,1002.7 1707.9,1004.4 1709.9,1005.9 1711.9,1007.5 1713.9,1009 1715.9,1010.4 1717.9,1011.8 1719.9,1013.1 1721.9,1014.4 1723.9,1015.7 1725.9,1016.9 1727.9,1018 1729.9,1019.1 1731.9,1020.1 1733.9,1021.1 1735.9,1022 1737.9,1022.9 1739.9,1023.7 1741.9,1024.5 1743.9,1025.2 1745.9,1025.9 1747.9,1026.5 1749.9,1027.1 1751.9,1027.6 1753.9,1028.1 1755.9,1028.6 1757.9,1028.9 1759.9,1029.3 1761.9,1029.6 1763.9,1029.8 1765.9,1030 1767.9,1030.2 1769.9,1030.3 1771.9,1030.4 1773.9,1030.5 1775.9,1030.5 1777.9,1030.5 1779.9,1030.4 1781.9,1030.3 1783.9,1030.2 1785.9,1030.1 1787.9,1029.9 1789.9,1029.7 1791.9,1029.5 1793.9,1029.2 1795.9,1029 1797.9,1028.7 1799.9,1028.4 1801.9,1028.1 1803.9,1027.8 1805.9,1027.4 1807.9,1027.1 1809.9,1026.7 1811.9,1026.4 1813.9,1026 1815.9,1025.6 1817.9,1025.3 1819.9,1024.9 1821.9,1024.5 1823.9,1024.1 1825.9,1023.8 1827.9,1023.4 1829.9,1023 1831.9,1022.7 1833.9,1022.4 1835.9,1022 1837.9,1021.7 1839.9,1021.4 1841.9,1021.1 1843.9,1020.8 1845.9,1020.5 1847.9,1020.3 1849.9,1020 1851.9,1019.8 1853.9,1019.6 1855.9,1019.4 1857.9,1019.2 1859.9,1019 1861.9,1018.9 1863.9,1018.7 1865.9,1018.6 1867.9,1018.4 1869.9,1018.3 1871.9,1018.2 1873.9,1018.1 1875.9,1018 1877.9,1018 1879.9,1017.9 1881.9,1017.8 1883.9,1017.8 1885.9,1017.7 1887.9,1017.7 1889.9,1017.7 1891.9,1017.7 1893.9,1017.7 1895.9,1017.7 1897.9,1017.7 1899.9,1017.7 1901.9,1017.7 1903.9,1017.7 1905.9,1017.8 1907.9,1017.8 1909.9,1017.8 1911.9,1017.9 1913.9,1017.9 1915.9,1018 1917.9,1018.1 1919.9,1018.1 1921.9,1018.2 1923.9,1018.3 1925.9,1018.4 1927.9,1018.5 1929.9,1018.5 1931.9,1018.6 1933.9,1018.7 1935.9,1018.8 1937.9,1019 1939.9,1019.1 1941.9,1019.2 1943.9,1019.3 1945.9,1019.4 1947.9,1019.5 1949.9,1019.7 1951.9,1019.8 1953.9,1019.9 1955.9,1020 1957.9,1020.2 1959.9,1020.3 1961.9,1020.4 1963.9,1020.6 1965.9,1020.7 1967.9,1020.9 1969.9,1021 1971.9,1021.1 1973.9,1021.3 1975.9,1021.4 1977.9,1021.6 1979.9,1021.7 1981.9,1021.9 1983.9,1022 1985.9,1022.2 1987.9,1022.3 1989.9,1022.5 1991.9,1022.7 1993.9,1022.8 1995.9,1023 1997.9,1023.1 1999.9,1023.3 2001.9,1023.4 2003.9,1023.6 2005.9,1023.8 2007.9,1023.9 2009.9,1024.1 2011.9,1024.2 2013.9,1024.4 2015.9,1024.6 2017.9,1024.7 2019.9,1024.9 2021.9,1025 2023.9,1025.2 2025.9,1025.4 2027.9,1025.5 2029.9,1025.7 2031.9,1025.8 2033.9,1026 2035.9,1026.2 2037.9,1026.3 2040,1026.5 2042,1026.6 2044,1026.8 2046,1026.9 2048,1027.1 2050,1027.2 2052,1027.4 2054,1027.5 2056,1027.7 2058,1027.8 2060,1028 2062,1028.1 2064,1028.2 2066,1028.4 2068,1028.5 2070,1028.7 2072,1028.8 2074,1028.9 2076,1029 2078,1029.2 2080,1029.3 2082,1029.4 2084,1029.5 2086,1029.6 2088,1029.7 2090,1029.8 2092,1029.9 2094,1029.9 2096,1030 2098,1030.1 2100,1030.1 2102,1030.2 2104,1030.2 2106,1030.3 2108,1030.3 2110,1030.3 2112,1030.3 2114,1030.3 2116,1030.3 2118,1030.3 2120,1030.3 2122,1030.2 2124,1030.2 2126,1030.1 2128,1030.1 2130,1030 2132,1029.9 2134,1029.8 2136,1029.7 2138,1029.7 2140,1029.5 2142,1029.4 2144,1029.3 2146,1029.2 2148,1029.1 2150,1028.9 2152,1028.8 2154,1028.6 2156,1028.5 2158,1028.3 2160,1028.2 2162,1028 2164,1027.9 2166,1027.7 2168,1027.5 2170,1027.3 2172,1027.2 2174,1027 2176,1026.8 2178,1026.6 2180,1026.4 2182,1026.2 2184,1026.1 2186,1025.9 2188,1025.7 2190,1025.5 2192,1025.3 2194,1025.2 2196,1025 2198,1024.8 2200,1024.6 2202,1024.4 2204,1024.3 2206,1024.1 2208,1023.9 2210,1023.7 2212,1023.5 2214,1023.3 2216,1023.1 2218,1022.9 2220,1022.8 2222,1022.6 2224,1022.4 2226,1022.2 2228,1022 2230,1021.8 2232,1021.6" stroke="#008000"/>
<path d="M170.6,1020 172.6,1020 174.7,1020 176.7,1020 178.7,1020 180.7,1020 182.8,1020 184.8,1020 186.8,1020 188.8,1020 189.3,1020M205.3,1020 207.1,1020 209.1,1020 211.1,1020 213.2,1020 215.2,1020 217.2,1020 219.2,1020 221.3,1020 223.3,1020 224.3,1020M240.6,1020 241.5,1020 243.6,1020 245.6,1020 247.6,1020 249.6,1020 251.7,1020 253.7,1020 255.7,1020 257.8,1020 259.6,1020M276.1,1020 278,1019.5 280,1018.1 282,1016.4 284,1014.6 286,1012.4 288,1009.9 289.7,1007.3M296.5,992.6 298,988.5 300,982.6 302,976.3 302.6,974.3M307.1,958.7 308,955.6 310,948.3 312,940.9 312.1,940.4M316.3,924.7 318,917.9 320,910 320.9,906.3M324.9,890.5 326,885.9 328,877.8 329.4,872M333.2,856.5 334,853.3 336,845.2 337.8,838.1M341.7,822.3 342,821.1 344,813.2 346,805.3 346.4,803.6M350.5,787.9 352,782.3 354,774.7 355.4,769.5M359.6,754.1 360,752.8 362,745.6 364,738.6 364.8,735.8M369.3,720.2 370,718 372,711.3 374,704.7 374.7,702.3M379.6,686.7 380,685.4 382,679.1 384,672.9 385.4,668.7M390.5,653.2 392,648.7 394,642.8 396,636.9 396.6,635.2M401.9,619.9 402,619.5 404,613.8 406,608.1 408,602.4 408.3,601.7M413.6,586.6 414,585.5 416,579.9 418,574.3 420,568.7M425.5,553.4 426,552 428,546.4 430,540.8 431.9,535.6M437.4,520.3 438,518.6 440,513 442,507.4 443.8,502.4M449.3,487.1 450,485.2 452,479.6 454,474.1 455.8,469.2M461.3,453.9 462,452.1 464,446.6 466,441.1 467.9,435.9M473.6,420.6 474,419.5 476,414.2 478,408.9 480,403.6 480.3,402.9M486.1,387.7 488,382.9 490,377.8 492,372.8 493.1,370M499.3,355 500,353.2 502,348.5 504,343.8 506,339.1 506.7,337.5M513.3,322.9 514,321.3 516,316.9 518,312.7 520,308.5 521.4,305.7M528.7,291.2 530,288.6 532,284.8 534,281.1 536,277.4 537.6,274.4M545.7,260.4 546,259.9 548,256.6 550,253.4 552,250.2 554,247.1 555.8,244.3M564.9,231.1 566,229.6 568,226.9 570,224.3 572,221.7 574,219.1 576,216.7 576.5,216.1M587.2,203.8 588,203 590,200.9 592,198.8 594,196.8 596,194.9 598,193 600,191.1 600.7,190.5M613.3,180.1 614,179.6 616,178.1 618,176.7 620,175.4 622,174.1 624,172.9 626,171.7 628,170.5 629.2,169.9M643.7,163.2 644,163 646,162.3 648,161.6 650,160.9 652,160.3 654,159.7 656,159.2 658,158.6 660,158.2 661.9,157.7M677.7,155.2 678,155.2 680,155 682,154.8 684,154.7 686,154.5 688,154.4 690,154.3 692,154.3 694,154.2 696,154.1 696.7,154.1M712.9,154.1 714,154.1 716,154.1 718,154.1 720,154.1 722,154.1 724,154.1 726,154.1 728,154.1 730,154.1 732,154.1 732.2,154.1M748.4,154.1 750,154.1 752,154.1 754,154.1 756,154.1 758,154.1 760,154.1 762,154.1 764,154.1 766,154.1 767.4,154.1M783.7,154.1 784,154.1 786,154.1 788,154.1 790,154.1 792,154.1 794,154.1 796,154.1 798,154.1 800,154.1 802,154.1 802.7,154.1M818.9,154.1 820,154.1 822,154 824,154 826,154 828,154 830,154 832,153.9 834,153.9 836,153.9 837.7,153.8M853.2,153.5 854,153.5 856,153.5 858,153.4 860,153.4 862,153.3 864,153.3 866,153.2 868,153.2 870,153.1 871.9,153.1M887.9,152.6 888,152.6 890,152.6 892,152.5 894,152.5 896,152.4 898,152.3 900,152.3 902,152.2 904,152.2 906,152.1 906.9,152.1M923.1,151.7 924,151.7 926,151.7 928,151.7 930,151.6 932,151.6 934,151.6 936,151.5 938,151.5 940,151.5 942,151.5 942.1,151.5M958.4,151.5 960,151.5 962,151.6 964,151.6 966,151.6 968,151.7 970,151.7 972,151.8 974,151.8 976,151.9 977.4,151.9M993.6,152.4 994,152.4 996,152.5 998,152.6 1000,152.7 1002,152.7 1004,152.8 1006,152.9 1008,152.9 1010,153 1012,153 1012.6,153.1M1028.9,153.5 1030,153.5 1032,153.6 1034,153.6 1036,153.6 1038,153.7 1040,153.7 1042,153.7 1044,153.7 1046,153.8 1047.9,153.8M1064.1,153.7 1066,153.7 1068,153.7 1070,153.6 1072,153.6 1074,153.6 1076,153.5 1078,153.5 1080,153.4 1082,153.4 1083.1,153.4M1099.3,152.9 1100,152.8 1102,152.8 1104,152.7 1106,152.6 1108,152.6 1110,152.5 1112,152.4 1114,152.3 1116,152.3 1118,152.2 1118.3,152.2M1134.6,151.7 1136,151.6 1138,151.6 1140,151.5 1142,151.5 1144,151.4 1146,151.4 1148,151.4 1150,151.3 1152,151.3 1153.6,151.3M1169.8,151.4 1170,151.4 1172,151.4 1174,151.4 1176,151.5 1178,151.6 1180,151.6 1182,151.7 1184,151.8 1186,151.9 1188,152 1188.8,152.1M1205,153.7 1206,153.8 1208,154.1 1210,154.4 1212,154.8 1214,155.1 1216,155.5 1218,156 1220,156.4 1222,156.9 1223.8,157.4M1239.7,162.8 1240,162.9 1242,163.8 1244,164.7 1246,165.7 1248,166.6 1250,167.7 1252,168.8 1254,169.9 1256,171.1 1257,171.7M1270.6,181.1 1272,182.2 1274,183.8 1276,185.5 1278,187.2 1280,189 1282,190.9 1284,192.8 1284.8,193.6M1295.8,205.3 1296,205.5 1298,207.8 1300,210.2 1302,212.6 1304,215.1 1306,217.7 1307.7,220M1317.1,233.3 1318,234.6 1320,237.6 1322,240.7 1324,243.9 1326,247.1 1327.3,249.3M1335.5,263.4 1336,264.2 1338,267.8 1340,271.5 1342,275.2 1344,279 1344.5,280.1M1351.9,294.6 1352,294.9 1354,299 1356,303.2 1358,307.4 1360,311.7 1360,311.7M1366.7,326.5 1368,329.4 1370,334 1372,338.6 1374,343.2 1374.3,344M1380.6,359 1382,362.5 1384,367.4 1386,372.4 1387.7,376.6M1393.5,391.7 1394,392.9 1396,398.2 1398,403.5 1400,408.9 1400.2,409.5M1405.8,424.8 1406,425.2 1408,430.7 1410,436.3 1412,441.9 1412.3,442.9M1417.7,458.2 1418,459 1420,464.8 1422,470.6 1423.9,476.2M1429.1,491.3 1430,494 1432,499.9 1434,505.9 1435.2,509.3M1440.3,524.7 1442,529.8 1444,535.8 1446,541.9 1446.3,542.8M1451.4,558.2 1452,560.1 1454,566.2 1456,572.3 1457.3,576.3M1462.4,591.7 1464,596.7 1466,602.9 1468,609 1468.2,609.8M1473.2,625 1474,627.4 1476,633.5 1478,639.6 1479.1,643M1484.3,658.7 1486,663.9 1488,669.9 1490,676 1490.2,676.5M1495.3,691.7 1496,693.8 1498,699.7 1500,705.6 1501.3,709.4M1506.7,725 1508,728.6 1510,734.3 1512,739.9 1513.1,742.9M1518.6,758.2 1520,761.9 1522,767.3 1524,772.6 1525.3,776M1531.2,791.4 1532,793.3 1534,798.4 1536,803.4 1538,808.3 1538.3,809M1544.5,823.8 1546,827.4 1548,832 1550,836.5 1552,841M1558.6,855.5 1560,858.4 1562,862.6 1564,866.7 1566,870.8 1566.9,872.6M1574.5,887.3 1576,890.1 1578,893.7 1580,897.3 1582,900.9 1583.7,903.9M1592.3,918 1594,920.7 1596,923.8 1598,926.8 1600,929.8 1602,932.7 1602.8,933.8M1612.4,946.9 1614,949.1 1616,951.6 1618,954.1 1620,956.5 1622,958.8 1624,961.1 1624.3,961.4M1635.4,973.3 1636,973.9 1638,975.8 1640,977.7 1642,979.5 1644,981.3 1646,983.1 1648,984.8 1649.5,986M1662.3,995.6 1664,996.7 1666,998 1668,999.2 1670,1000.4 1672,1001.6 1674,1002.7 1676,1003.8 1678,1004.8 1678.9,1005.3M1693.6,1011.5 1694,1011.6 1696,1012.3 1698,1013 1700,1013.6 1702,1014.2 1704,1014.7 1706,1015.3 1708,1015.8 1710,1016.2 1712,1016.7 1712.1,1016.7M1728.2,1019.2 1730,1019.3 1732,1019.5 1734,1019.7 1736,1019.8 1738,1019.9 1740,1020 1742,1020 1744,1020 1746,1020.1 1747.2,1020.1M1763.4,1020 1764,1020 1766,1020 1768,1020 1770,1020 1772,1020 1774,1020 1776,1020 1778,1020 1780,1020 1782,1020 1782.2,1020M1798.4,1020 1800,1020 1802,1020 1804,1020 1806,1020 1808,1020 1810,1020 1812,1020 1814,1020 1816,1020 1817.4,1020M1833.7,1020 1834,1020 1836,1020 1838,1020 1840,1020 1842,1020 1844,1020 1846,1020 1848,1020 1850,1020 1852,1020 1852.7,1020M1868.7,1020 1870,1020 1872,1020 1874,1020 1876,1020 1878,1020 1880,1020 1882,1020 1884,1020 1886,1020 1887.7,1020M1904.2,1020 1906,1020 1908,1020 1910,1020 1912,1020 1914,1020 1916,1020 1918,1020 1920,1020 1922,1020 1923.2,1020M1939.4,1020 1940,1020 1942,1020 1944,1020 1946,1020 1948,1020 1950,1020 1952,1020 1954,1020 1956,1020 1958,1020 1958.4,1020M1974.4,1020 1976,1020 1978,1020 1980,1020 1982,1020 1984,1020 1986,1020 1988,1020 1990,1020 1992,1020 1993.4,1020M2009.7,1020 2010,1020 2012,1020 2014,1020 2016,1020 2018,1020 2020,1020 2022,1020 2024,1020 2026,1020 2028,1020 2028.7,1020M2044.9,1020 2046,1020 2048,1020 2050,1020 2052,1020 2054,1020 2056,1020 2058,1020 2060,1020 2062,1020 2063.9,1020M2080.2,1020 2082,1020 2084,1020 2086,1020 2088,1020 2090,1020 2092,1020 2094,1020 2096,1020 2098,1020 2099.2,1020M2115.4,1020 2116,1020 2118,1020 2120,1020 2122,1020 2124,1020 2126,1020 2128,1020 2130,1020 2132,1020 2134,1020 2134.4,1020M2150.4,1020 2152,1020 2154,1020 2156,1020 2158,1020 2160,1020 2162,1020 2164,1020 2166,1020 2168,1020 2169.4,1020M2185.7,1020 2186,1020 2188,1020 2190,1020 2192,1020 2194,1020 2196,1020 2198,1020 2200,1020 2202,1020 2204,1020 2204.7,1020M2220.9,1020 2222,1020 2224,1020 2226,1020 2228,1020 2230,1020 2232,1020" stroke="#0000ff"/>
</g>
<g class="tk" font-size="47.7">
<text transform="translate(170,1192.3) scale(0.94,1)" text-anchor="middle">0</text>
<text transform="translate(412.7,1192.3) scale(0.94,1)" text-anchor="middle">1</text>
<text transform="translate(655.3,1192.3) scale(0.94,1)" text-anchor="middle">2</text>
<text transform="translate(898,1192.3) scale(0.94,1)" text-anchor="middle">3</text>
<text transform="translate(1140.7,1192.3) scale(0.94,1)" text-anchor="middle">4</text>
<text transform="translate(1383.3,1192.3) scale(0.94,1)" text-anchor="middle">5</text>
<text transform="translate(1626,1192.3) scale(0.94,1)" text-anchor="middle">6</text>
<text transform="translate(1868.7,1192.3) scale(0.94,1)" text-anchor="middle">7</text>
<text transform="translate(2111.3,1192.3) scale(0.94,1)" text-anchor="middle">8</text>
<text transform="translate(2354,1192.3) scale(0.94,1)" text-anchor="middle">9</text>
<text transform="translate(153.4,1147.5) scale(0.94,1)" text-anchor="end">0.9</text>
<text transform="translate(153.4,1039.2) scale(0.94,1)" text-anchor="end">1</text>
<text transform="translate(153.4,930.9) scale(0.94,1)" text-anchor="end">1.1</text>
<text transform="translate(153.4,822.7) scale(0.94,1)" text-anchor="end">1.2</text>
<text transform="translate(153.4,714.4) scale(0.94,1)" text-anchor="end">1.3</text>
<text transform="translate(153.4,606.1) scale(0.94,1)" text-anchor="end">1.4</text>
<text transform="translate(153.4,497.8) scale(0.94,1)" text-anchor="end">1.5</text>
<text transform="translate(153.4,389.5) scale(0.94,1)" text-anchor="end">1.6</text>
<text transform="translate(153.4,281.3) scale(0.94,1)" text-anchor="end">1.7</text>
<text transform="translate(153.4,173) scale(0.94,1)" text-anchor="end">1.8</text>
<text transform="translate(153.4,64.7) scale(0.94,1)" text-anchor="end">1.9</text>
</g>
<g class="tk" font-size="59.8">
<text x="1262.6" y="1267.1" text-anchor="middle">Time (second)</text>
<text transform="translate(67.1,589.3) rotate(-90)" text-anchor="middle">x (m)</text>
</g>
<g class="lg" font-size="41.8">
<rect x="1516" y="45.5" width="838.6" height="181" fill="#fff" stroke="#262626" stroke-width="3"/>
<path d="M1516.5,45.5 V226.5" stroke="#262626" stroke-width="4" fill="none"/>
<path d="M1530.2,79.4 H1625.2" stroke="#ff0000" stroke-width="7" fill="none"/>
<text x="1630.3" y="96.5">desired output</text>
<path d="M1530.2,135.4 H1625.2" stroke="#008000" stroke-width="7" fill="none"/>
<text x="1630.3" y="152.5">uncompensated output of RobotStudio</text>
<path d="M1533.2,192.5 H1625.2" stroke="#0000ff" stroke-width="7" fill="none" stroke-dasharray="19 16.2"/>
<text x="1630.3" y="209.6">compensated output of RobotStudio</text>
</g>
<text class="cap" x="1230.5" y="1404.5" text-anchor="middle" font-size="77.7" transform="translate(1230.5,0) scale(0.92,1) translate(-1230.5,0)">(<tspan font-weight="bold">a</tspan>)</text>
</g>
<g id="plot-b">
<path d="M424.2,2596.5 v-23.2 M424.2,1521.5 v23.2 M665,2596.5 v-23.2 M665,1521.5 v23.2 M905.8,2596.5 v-23.2 M905.8,1521.5 v23.2 M1146.6,2596.5 v-23.2 M1146.6,1521.5 v23.2 M1387.3,2596.5 v-23.2 M1387.3,1521.5 v23.2 M1628.1,2596.5 v-23.2 M1628.1,1521.5 v23.2 M1868.9,2596.5 v-23.2 M1868.9,1521.5 v23.2 M2109.7,2596.5 v-23.2 M2109.7,1521.5 v23.2 M183.4,2489 h23.2 M2350.5,2489 h-23.2 M183.4,2381.5 h23.2 M2350.5,2381.5 h-23.2 M183.4,2274 h23.2 M2350.5,2274 h-23.2 M183.4,2166.5 h23.2 M2350.5,2166.5 h-23.2 M183.4,2059 h23.2 M2350.5,2059 h-23.2 M183.4,1951.5 h23.2 M2350.5,1951.5 h-23.2 M183.4,1844 h23.2 M2350.5,1844 h-23.2 M183.4,1736.5 h23.2 M2350.5,1736.5 h-23.2 M183.4,1629 h23.2 M2350.5,1629 h-23.2" stroke="#262626" stroke-width="3" fill="none"/>
<rect x="183.4" y="1521.5" width="2167.1" height="1075" fill="none" stroke="#262626" stroke-width="3"/>
<g fill="none" stroke-linejoin="round" stroke-width="6.9">
<path d="M183.4,2489 185.4,2489 187.4,2489 189.4,2489 191.4,2489 193.4,2489 195.4,2489 197.4,2489 199.4,2489 201.4,2489 203.4,2489 205.4,2489 207.4,2489 209.4,2489 211.4,2489 213.4,2489 215.4,2489 217.4,2489 219.4,2489 221.4,2489 223.4,2489 225.4,2489 227.4,2489 229.4,2489 231.4,2489 233.4,2489 235.4,2489 237.4,2489 239.4,2489 241.4,2489 243.4,2489 245.4,2489 247.5,2489 249.5,2489 251.5,2489 253.5,2489 255.5,2489 257.5,2489 259.5,2489 261.5,2489 263.5,2489 265.5,2489 267.5,2489 269.5,2489 271.5,2489 273.5,2489 275.5,2489 277.5,2489 279.5,2489 281.5,2489 283.5,2489 285.5,2489 287.5,2489 289.5,2489 291.5,2489 293.5,2489 295.5,2489 297.5,2489 299.5,2489 301.5,2489 303.5,2489 305.5,2489 307.5,2489 309.5,2489 311.5,2489 313.5,2489 315.5,2489 317.5,2489 319.5,2489 321.5,2489 323.5,2489 325.5,2489 327.5,2489 329.5,2489 331.5,2489 333.5,2489 335.5,2489 337.5,2489 339.5,2489 341.5,2489 343.5,2489 345.5,2489 347.5,2489 349.5,2489 351.5,2489 353.5,2489 355.5,2489 357.5,2489 359.5,2489 361.5,2489 363.5,2489 365.5,2489 367.5,2489 369.5,2489 371.5,2489 373.5,2489 375.6,2489 377.6,2489 379.6,2489 381.6,2489 383.6,2489 385.6,2489 387.6,2489 389.6,2489 391.6,2489 393.6,2489 395.6,2489 397.6,2489 399.6,2489 401.6,2489 403.6,2489 405.6,2489 407.6,2489 409.6,2489 411.6,2489 413.6,2489 415.6,2489 417.6,2489 419.6,2489 421.6,2489 423.6,2489 425.6,2489 427.6,2489 429.6,2489 431.6,2489 433.6,2489 435.6,2489 437.6,2489 439.6,2489 441.6,2489 443.6,2489 445.6,2489 447.6,2489 449.6,2489 451.6,2489 453.6,2489 455.6,2489 457.6,2489 459.6,2489 461.6,2489 463.6,2489 465.6,2489 467.6,2489 469.6,2489 471.6,2489 473.6,2489 475.6,2489 477.6,2489 479.6,2489 481.6,2489 483.6,2489 485.6,2489 487.6,2489 489.6,2489 491.6,2489 493.6,2489 495.6,2489 497.6,2489 499.6,2489 501.6,2489 503.7,2489 505.7,2489 507.7,2489 509.7,2489 511.7,2489 513.7,2489 515.7,2489 517.7,2489 519.7,2489 521.7,2489 523.7,2489 525.7,2489 527.7,2489 529.7,2489 531.7,2489 533.7,2489 535.7,2489 537.7,2489 539.7,2489 541.7,2489 543.7,2489 545.7,2489 547.7,2489 549.7,2489 551.7,2489 553.7,2489 555.7,2489 557.7,2489 559.7,2489 561.7,2489 563.7,2489 565.7,2489 567.7,2489 569.7,2489 571.7,2489 573.7,2489 575.7,2489 577.7,2489 579.7,2489 581.7,2489 583.7,2489 585.7,2489 587.7,2489 589.7,2489 591.7,2489 593.7,2489 595.7,2489 597.7,2489 599.7,2489 601.7,2489 603.7,2489 605.7,2489 607.7,2489 609.7,2489 611.7,2489 613.7,2489 615.7,2489 617.7,2489 619.7,2489 621.7,2489 623.7,2489 625.7,2489 627.7,2489 629.7,2489 631.8,2489 633.8,2489 635.8,2489 637.8,2489 639.8,2489 641.8,2489 643.8,2489 645.8,2489 647.8,2489 649.8,2489 651.8,2489 653.8,2489 655.8,2489 657.8,2489 659.8,2489 661.8,2489 663.8,2489 665.8,2489.1 667.8,2489.1 669.8,2489.1 671.8,2489.1 673.8,2489.1 675.8,2489.1 677.8,2489.1 679.8,2489.2 681.8,2489.1 683.8,2489.1 685.8,2489.1 687.8,2489 689.8,2488.9 691.8,2488.7 693.8,2488.5 695.8,2488.3 697.8,2488 699.8,2487.7 701.8,2487.4 703.8,2487 705.8,2486.5 707.8,2486 709.8,2485.5 711.8,2485 713.8,2484.4 715.8,2483.7 717.8,2483.1 719.8,2482.3 721.8,2481.6 723.8,2480.8 725.8,2479.9 727.8,2479 729.8,2478.1 731.8,2477.1 733.8,2476.1 735.8,2475 737.8,2473.9 739.8,2472.7 741.8,2471.5 743.8,2470.2 745.8,2468.9 747.8,2467.6 749.8,2466.2 751.8,2464.7 753.8,2463.2 755.8,2461.6 757.8,2460 759.9,2458.3 761.9,2456.6 763.9,2454.8 765.9,2453 767.9,2451.1 769.9,2449.1 771.9,2447.1 773.9,2445 775.9,2442.9 777.9,2440.7 779.9,2438.4 781.9,2436.1 783.9,2433.7 785.9,2431.2 787.9,2428.7 789.9,2426.2 791.9,2423.5 793.9,2420.8 795.9,2418 797.9,2415.2 799.9,2412.3 801.9,2409.4 803.9,2406.3 805.9,2403.3 807.9,2400.1 809.9,2396.9 811.9,2393.6 813.9,2390.3 815.9,2386.9 817.9,2383.4 819.9,2379.9 821.9,2376.3 823.9,2372.7 825.9,2369 827.9,2365.2 829.9,2361.4 831.9,2357.5 833.9,2353.5 835.9,2349.5 837.9,2345.5 839.9,2341.3 841.9,2337.2 843.9,2332.9 845.9,2328.6 847.9,2324.3 849.9,2319.9 851.9,2315.5 853.9,2311 855.9,2306.4 857.9,2301.8 859.9,2297.2 861.9,2292.5 863.9,2287.8 865.9,2283 867.9,2278.1 869.9,2273.2 871.9,2268.3 873.9,2263.3 875.9,2258.2 877.9,2253.1 879.9,2247.9 881.9,2242.7 883.9,2237.4 885.9,2232 888,2226.5 890,2221 892,2215.4 894,2209.7 896,2204 898,2198.1 900,2192.1 902,2186.1 904,2179.9 906,2173.7 908,2167.5 910,2161.1 912,2154.7 914,2148.2 916,2141.7 918,2135.2 920,2128.6 922,2122 924,2115.4 926,2108.8 928,2102.1 930,2095.5 932,2088.8 934,2082.2 936,2075.6 938,2069 940,2062.5 942,2055.9 944,2049.5 946,2043 948,2036.7 950,2030.3 952,2024 954,2017.8 956,2011.6 958,2005.5 960,1999.3 962,1993.3 964,1987.2 966,1981.2 968,1975.3 970,1969.4 972,1963.5 974,1957.7 976,1951.9 978,1946.1 980,1940.4 982,1934.7 984,1929 986,1923.4 988,1917.8 990,1912.2 992,1906.7 994,1901.2 996,1895.7 998,1890.2 1000,1884.8 1002,1879.4 1004,1874.1 1006,1868.8 1008,1863.5 1010,1858.3 1012,1853.2 1014,1848.1 1016.1,1843 1018.1,1838 1020.1,1833 1022.1,1828.1 1024.1,1823.3 1026.1,1818.5 1028.1,1813.8 1030.1,1809.2 1032.1,1804.6 1034.1,1800 1036.1,1795.6 1038.1,1791.2 1040.1,1786.8 1042.1,1782.6 1044.1,1778.3 1046.1,1774.2 1048.1,1770.1 1050.1,1766 1052.1,1762.1 1054.1,1758.1 1056.1,1754.2 1058.1,1750.4 1060.1,1746.6 1062.1,1742.9 1064.1,1739.3 1066.1,1735.6 1068.1,1732.1 1070.1,1728.6 1072.1,1725.1 1074.1,1721.7 1076.1,1718.3 1078.1,1715.1 1080.1,1711.8 1082.1,1708.7 1084.1,1705.6 1086.1,1702.5 1088.1,1699.6 1090.1,1696.7 1092.1,1693.8 1094.1,1691.1 1096.1,1688.4 1098.1,1685.7 1100.1,1683.2 1102.1,1680.7 1104.1,1678.2 1106.1,1675.9 1108.1,1673.6 1110.1,1671.3 1112.1,1669.2 1114.1,1667.1 1116.1,1665.1 1118.1,1663.1 1120.1,1661.2 1122.1,1659.4 1124.1,1657.6 1126.1,1655.9 1128.1,1654.3 1130.1,1652.7 1132.1,1651.2 1134.1,1649.8 1136.1,1648.4 1138.1,1647 1140.1,1645.7 1142.1,1644.5 1144.2,1643.3 1146.2,1642.2 1148.2,1641.1 1150.2,1640.1 1152.2,1639.2 1154.2,1638.3 1156.2,1637.4 1158.2,1636.6 1160.2,1635.9 1162.2,1635.2 1164.2,1634.5 1166.2,1633.9 1168.2,1633.3 1170.2,1632.8 1172.2,1632.3 1174.2,1631.9 1176.2,1631.5 1178.2,1631.1 1180.2,1630.8 1182.2,1630.5 1184.2,1630.2 1186.2,1630 1188.2,1629.8 1190.2,1629.6 1192.2,1629.5 1194.2,1629.4 1196.2,1629.3 1198.2,1629.2 1200.2,1629.1 1202.2,1629.1 1204.2,1629 1206.2,1629 1208.2,1629 1210.2,1629 1212.2,1629 1214.2,1629 1216.2,1629 1218.2,1629 1220.2,1629 1222.2,1629 1224.2,1629 1226.2,1629 1228.2,1629 1230.2,1629 1232.2,1629 1234.2,1629 1236.2,1629 1238.2,1629 1240.2,1629 1242.2,1629 1244.2,1629 1246.2,1629 1248.2,1629 1250.2,1629 1252.2,1629 1254.2,1629 1256.2,1629 1258.2,1629 1260.2,1629 1262.2,1629 1264.2,1629 1266.2,1629 1268.2,1629 1270.3,1629 1272.3,1629 1274.3,1629 1276.3,1629 1278.3,1629 1280.3,1629 1282.3,1629 1284.3,1629 1286.3,1629 1288.3,1629 1290.3,1629 1292.3,1629 1294.3,1629 1296.3,1629 1298.3,1629 1300.3,1629 1302.3,1629 1304.3,1629 1306.3,1629 1308.3,1629 1310.3,1629 1312.3,1629 1314.3,1629 1316.3,1629 1318.3,1629 1320.3,1629 1322.3,1629 1324.3,1629 1326.3,1629 1328.3,1629 1330.3,1629 1332.3,1629 1334.3,1629 1336.3,1629 1338.3,1629 1340.3,1629 1342.3,1629 1344.3,1629 1346.3,1629 1348.3,1629 1350.3,1629 1352.3,1629 1354.3,1629 1356.3,1629 1358.3,1629 1360.3,1629 1362.3,1629 1364.3,1629 1366.3,1629 1368.3,1629 1370.3,1629 1372.3,1629 1374.3,1629 1376.3,1629 1378.3,1629 1380.3,1629 1382.3,1629 1384.3,1629 1386.3,1629 1388.3,1629 1390.3,1629 1392.3,1629 1394.3,1629 1396.3,1629 1398.4,1629 1400.4,1629 1402.4,1629 1404.4,1629 1406.4,1629 1408.4,1629 1410.4,1629 1412.4,1629 1414.4,1629 1416.4,1629 1418.4,1629 1420.4,1629 1422.4,1629 1424.4,1629 1426.4,1629 1428.4,1629 1430.4,1629 1432.4,1629 1434.4,1629 1436.4,1629 1438.4,1629 1440.4,1629 1442.4,1629 1444.4,1629 1446.4,1629 1448.4,1629 1450.4,1629 1452.4,1629 1454.4,1629 1456.4,1629 1458.4,1629 1460.4,1629 1462.4,1629 1464.4,1629 1466.4,1629 1468.4,1629 1470.4,1629 1472.4,1629 1474.4,1629 1476.4,1629 1478.4,1629 1480.4,1629 1482.4,1629 1484.4,1629 1486.4,1629 1488.4,1629 1490.4,1629 1492.4,1629 1494.4,1629 1496.4,1629 1498.4,1629 1500.4,1629 1502.4,1629 1504.4,1629 1506.4,1629 1508.4,1629 1510.4,1629 1512.4,1629 1514.4,1629 1516.4,1629 1518.4,1629 1520.4,1629 1522.4,1629 1524.4,1629 1526.5,1629 1528.5,1629 1530.5,1629 1532.5,1629 1534.5,1629 1536.5,1629 1538.5,1629 1540.5,1629 1542.5,1629 1544.5,1629 1546.5,1629 1548.5,1629 1550.5,1629 1552.5,1629 1554.5,1629 1556.5,1629 1558.5,1629 1560.5,1629 1562.5,1629 1564.5,1629 1566.5,1629 1568.5,1629 1570.5,1629 1572.5,1629 1574.5,1629 1576.5,1629 1578.5,1629 1580.5,1629 1582.5,1629 1584.5,1629 1586.5,1629 1588.5,1629 1590.5,1629 1592.5,1629 1594.5,1629 1596.5,1629 1598.5,1629 1600.5,1629 1602.5,1629 1604.5,1629 1606.5,1629 1608.5,1629 1610.5,1629 1612.5,1629 1614.5,1629 1616.5,1629 1618.5,1629 1620.5,1629 1622.5,1629 1624.5,1629 1626.5,1629 1628.5,1629 1630.5,1629 1632.5,1629 1634.5,1629 1636.5,1629 1638.5,1629 1640.5,1629 1642.5,1629 1644.5,1629 1646.5,1629 1648.5,1629 1650.5,1629 1652.5,1629 1654.6,1629 1656.6,1629 1658.6,1629 1660.6,1629 1662.6,1629 1664.6,1629 1666.6,1629 1668.6,1629 1670.6,1629 1672.6,1629 1674.6,1629 1676.6,1629 1678.6,1629 1680.6,1629 1682.6,1629 1684.6,1629 1686.6,1629 1688.6,1629 1690.6,1629 1692.6,1629 1694.6,1629 1696.6,1629 1698.6,1629 1700.6,1629 1702.6,1629 1704.6,1628.9 1706.6,1628.9 1708.6,1628.9 1710.6,1628.9 1712.6,1628.9 1714.6,1628.9 1716.6,1628.9 1718.6,1629 1720.6,1629 1722.6,1629 1724.6,1629.1 1726.6,1629.2 1728.6,1629.3 1730.6,1629.5 1732.6,1629.7 1734.6,1629.9 1736.6,1630.1 1738.6,1630.4 1740.6,1630.6 1742.6,1631 1744.6,1631.3 1746.6,1631.7 1748.6,1632.2 1750.6,1632.6 1752.6,1633.2 1754.6,1633.7 1756.6,1634.3 1758.6,1635 1760.6,1635.6 1762.6,1636.4 1764.6,1637.2 1766.6,1638 1768.6,1638.9 1770.6,1639.8 1772.6,1640.8 1774.6,1641.8 1776.6,1642.9 1778.6,1644.1 1780.6,1645.3 1782.7,1646.5 1784.7,1647.9 1786.7,1649.2 1788.7,1650.7 1790.7,1652.2 1792.7,1653.7 1794.7,1655.3 1796.7,1657 1798.7,1658.7 1800.7,1660.5 1802.7,1662.4 1804.7,1664.3 1806.7,1666.3 1808.7,1668.4 1810.7,1670.5 1812.7,1672.7 1814.7,1674.9 1816.7,1677.3 1818.7,1679.7 1820.7,1682.1 1822.7,1684.6 1824.7,1687.2 1826.7,1689.9 1828.7,1692.7 1830.7,1695.5 1832.7,1698.3 1834.7,1701.3 1836.7,1704.3 1838.7,1707.4 1840.7,1710.6 1842.7,1713.8 1844.7,1717.1 1846.7,1720.4 1848.7,1723.9 1850.7,1727.4 1852.7,1730.9 1854.7,1734.5 1856.7,1738.2 1858.7,1742 1860.7,1745.8 1862.7,1749.7 1864.7,1753.6 1866.7,1757.6 1868.7,1761.6 1870.7,1765.8 1872.7,1769.9 1874.7,1774.1 1876.7,1778.4 1878.7,1782.7 1880.7,1787 1882.7,1791.4 1884.7,1795.9 1886.7,1800.4 1888.7,1804.9 1890.7,1809.4 1892.7,1814 1894.7,1818.7 1896.7,1823.3 1898.7,1828 1900.7,1832.8 1902.7,1837.5 1904.7,1842.4 1906.7,1847.2 1908.7,1852.1 1910.8,1857.1 1912.8,1862 1914.8,1867.1 1916.8,1872.1 1918.8,1877.3 1920.8,1882.5 1922.8,1887.7 1924.8,1893 1926.8,1898.4 1928.8,1903.8 1930.8,1909.4 1932.8,1915 1934.8,1920.6 1936.8,1926.4 1938.8,1932.1 1940.8,1938 1942.8,1943.9 1944.8,1949.9 1946.8,1955.9 1948.8,1962 1950.8,1968.1 1952.8,1974.3 1954.8,1980.5 1956.8,1986.7 1958.8,1993 1960.8,1999.3 1962.8,2005.6 1964.8,2012 1966.8,2018.4 1968.8,2024.8 1970.8,2031.2 1972.8,2037.7 1974.8,2044.1 1976.8,2050.6 1978.8,2057 1980.8,2063.5 1982.8,2070 1984.8,2076.5 1986.8,2083 1988.8,2089.4 1990.8,2095.9 1992.8,2102.3 1994.8,2108.8 1996.8,2115.2 1998.8,2121.6 2000.8,2128 2002.8,2134.3 2004.8,2140.6 2006.8,2146.9 2008.8,2153.2 2010.8,2159.4 2012.8,2165.6 2014.8,2171.8 2016.8,2177.9 2018.8,2184 2020.8,2190 2022.8,2196 2024.8,2201.9 2026.8,2207.7 2028.8,2213.5 2030.8,2219.3 2032.8,2225 2034.8,2230.6 2036.8,2236.2 2038.9,2241.7 2040.9,2247.1 2042.9,2252.5 2044.9,2257.8 2046.9,2263.1 2048.9,2268.3 2050.9,2273.4 2052.9,2278.5 2054.9,2283.5 2056.9,2288.4 2058.9,2293.3 2060.9,2298.1 2062.9,2302.8 2064.9,2307.5 2066.9,2312.1 2068.9,2316.6 2070.9,2321.1 2072.9,2325.5 2074.9,2329.8 2076.9,2334.1 2078.9,2338.2 2080.9,2342.4 2082.9,2346.4 2084.9,2350.5 2086.9,2354.4 2088.9,2358.3 2090.9,2362.1 2092.9,2365.9 2094.9,2369.6 2096.9,2373.2 2098.9,2376.8 2100.9,2380.3 2102.9,2383.7 2104.9,2387.1 2106.9,2390.5 2108.9,2393.8 2110.9,2397 2112.9,2400.2 2114.9,2403.3 2116.9,2406.3 2118.9,2409.3 2120.9,2412.2 2122.9,2415.1 2124.9,2417.9 2126.9,2420.7 2128.9,2423.4 2130.9,2426.1 2132.9,2428.7 2134.9,2431.2 2136.9,2433.7 2138.9,2436.1 2140.9,2438.5 2142.9,2440.8 2144.9,2443 2146.9,2445.2 2148.9,2447.4 2150.9,2449.4 2152.9,2451.5 2154.9,2453.4 2156.9,2455.3 2158.9,2457.2 2160.9,2459 2162.9,2460.7 2164.9,2462.4 2167,2464.1 2169,2465.6 2171,2467.2 2173,2468.6 2175,2470 2177,2471.4 2179,2472.7 2181,2473.9 2183,2475.1 2185,2476.2 2187,2477.3 2189,2478.4 2191,2479.3 2193,2480.3 2195,2481.1 2197,2481.9 2199,2482.7 2201,2483.4 2203,2484.1 2205,2484.7 2207,2485.3 2209,2485.9 2211,2486.4 2213,2486.8 2215,2487.2 2217,2487.6 2219,2487.9 2221,2488.2 2223,2488.4 2225,2488.6 2227,2488.8 2229,2488.9" stroke="#ff0000"/>
<path d="M183.4,2489 185.4,2489 187.4,2489 189.4,2489 191.4,2489 193.4,2489 195.4,2489 197.4,2489 199.4,2489 201.4,2489 203.4,2489 205.4,2489 207.4,2489 209.4,2489 211.4,2489 213.4,2489 215.4,2489 217.4,2489 219.4,2489 221.4,2489 223.4,2489 225.4,2489 227.4,2489 229.4,2489 231.4,2489 233.4,2489 235.4,2489 237.4,2489 239.4,2489 241.4,2489 243.4,2489 245.4,2489 247.5,2489 249.5,2489 251.5,2489 253.5,2489 255.5,2489 257.5,2489 259.5,2489 261.5,2489 263.5,2489 265.5,2489 267.5,2489 269.5,2489 271.5,2489 273.5,2489 275.5,2489 277.5,2489 279.5,2489 281.5,2489 283.5,2489 285.5,2489 287.5,2489 289.5,2489 291.5,2489 293.5,2489 295.5,2489 297.5,2489 299.5,2489 301.5,2489 303.5,2489 305.5,2489 307.5,2489 309.5,2489 311.5,2489 313.5,2489 315.5,2489 317.5,2489 319.5,2489 321.5,2489 323.5,2489 325.5,2489 327.5,2489 329.5,2489 331.5,2489 333.5,2489 335.5,2489 337.5,2489 339.5,2489 341.5,2489 343.5,2489 345.5,2489 347.5,2489 349.5,2489 351.5,2489 353.5,2489 355.5,2489 357.5,2489 359.5,2489 361.5,2489 363.5,2489 365.5,2489 367.5,2489 369.5,2489 371.5,2489 373.5,2489 375.6,2489 377.6,2489 379.6,2489 381.6,2489 383.6,2489 385.6,2489 387.6,2489 389.6,2489 391.6,2488.9 393.6,2488.9 395.6,2488.9 397.6,2488.8 399.6,2488.8 401.6,2488.7 403.6,2488.7 405.6,2488.6 407.6,2488.5 409.6,2488.5 411.6,2488.4 413.6,2488.3 415.6,2488.3 417.6,2488.2 419.6,2488.1 421.6,2488 423.6,2487.9 425.6,2487.8 427.6,2487.7 429.6,2487.7 431.6,2487.6 433.6,2487.5 435.6,2487.4 437.6,2487.3 439.6,2487.2 441.6,2487.1 443.6,2487 445.6,2486.9 447.6,2486.9 449.6,2486.8 451.6,2486.7 453.6,2486.6 455.6,2486.5 457.6,2486.5 459.6,2486.4 461.6,2486.3 463.6,2486.3 465.6,2486.2 467.6,2486.1 469.6,2486.1 471.6,2486 473.6,2486 475.6,2485.9 477.6,2485.9 479.6,2485.9 481.6,2485.8 483.6,2485.8 485.6,2485.7 487.6,2485.7 489.6,2485.7 491.6,2485.7 493.6,2485.6 495.6,2485.6 497.6,2485.6 499.6,2485.6 501.6,2485.6 503.7,2485.6 505.7,2485.6 507.7,2485.6 509.7,2485.6 511.7,2485.6 513.7,2485.6 515.7,2485.6 517.7,2485.7 519.7,2485.7 521.7,2485.7 523.7,2485.7 525.7,2485.7 527.7,2485.8 529.7,2485.8 531.7,2485.8 533.7,2485.9 535.7,2485.9 537.7,2486 539.7,2486 541.7,2486 543.7,2486.1 545.7,2486.1 547.7,2486.2 549.7,2486.2 551.7,2486.3 553.7,2486.4 555.7,2486.4 557.7,2486.5 559.7,2486.5 561.7,2486.6 563.7,2486.6 565.7,2486.7 567.7,2486.8 569.7,2486.8 571.7,2486.9 573.7,2487 575.7,2487 577.7,2487.1 579.7,2487.2 581.7,2487.2 583.7,2487.3 585.7,2487.4 587.7,2487.4 589.7,2487.5 591.7,2487.6 593.7,2487.6 595.7,2487.7 597.7,2487.8 599.7,2487.8 601.7,2487.9 603.7,2488 605.7,2488 607.7,2488.1 609.7,2488.1 611.7,2488.2 613.7,2488.2 615.7,2488.3 617.7,2488.4 619.7,2488.4 621.7,2488.5 623.7,2488.5 625.7,2488.5 627.7,2488.6 629.7,2488.6 631.8,2488.7 633.8,2488.7 635.8,2488.7 637.8,2488.8 639.8,2488.8 641.8,2488.8 643.8,2488.9 645.8,2488.9 647.8,2488.9 649.8,2488.9 651.8,2488.9 653.8,2489 655.8,2489 657.8,2489 659.8,2489 661.8,2489 663.8,2489 665.8,2489 667.8,2489 669.8,2489 671.8,2489 673.8,2489 675.8,2489 677.8,2489 679.8,2489 681.8,2489 683.8,2489 685.8,2489 687.8,2489 689.8,2489 691.8,2489 693.8,2489 695.8,2489 697.8,2489 699.8,2489 701.8,2489 703.8,2489 705.8,2489 707.8,2489 709.8,2489 711.8,2489 713.8,2489 715.8,2489 717.8,2489 719.8,2489 721.8,2489.1 723.8,2489.1 725.8,2489.1 727.8,2489.1 729.8,2489.1 731.8,2489.1 733.8,2489.1 735.8,2489.1 737.8,2489 739.8,2489 741.8,2488.9 743.8,2488.9 745.8,2488.8 747.8,2488.7 749.8,2488.5 751.8,2488.4 753.8,2488.2 755.8,2488 757.8,2487.7 759.9,2487.5 761.9,2487.2 763.9,2486.8 765.9,2486.4 767.9,2486 769.9,2485.6 771.9,2485.1 773.9,2484.6 775.9,2484 777.9,2483.4 779.9,2482.8 781.9,2482.1 783.9,2481.3 785.9,2480.5 787.9,2479.7 789.9,2478.8 791.9,2477.8 793.9,2476.8 795.9,2475.8 797.9,2474.6 799.9,2473.5 801.9,2472.2 803.9,2470.9 805.9,2469.6 807.9,2468.2 809.9,2466.7 811.9,2465.2 813.9,2463.6 815.9,2461.9 817.9,2460.2 819.9,2458.4 821.9,2456.6 823.9,2454.7 825.9,2452.7 827.9,2450.7 829.9,2448.6 831.9,2446.5 833.9,2444.3 835.9,2442 837.9,2439.7 839.9,2437.3 841.9,2434.8 843.9,2432.3 845.9,2429.8 847.9,2427.1 849.9,2424.5 851.9,2421.7 853.9,2419 855.9,2416.1 857.9,2413.3 859.9,2410.3 861.9,2407.4 863.9,2404.3 865.9,2401.2 867.9,2398.1 869.9,2395 871.9,2391.7 873.9,2388.5 875.9,2385.2 877.9,2381.8 879.9,2378.4 881.9,2375 883.9,2371.5 885.9,2367.9 888,2364.3 890,2360.7 892,2357 894,2353.2 896,2349.4 898,2345.5 900,2341.5 902,2337.5 904,2333.4 906,2329.2 908,2325 910,2320.7 912,2316.2 914,2311.7 916,2307.1 918,2302.4 920,2297.6 922,2292.7 924,2287.7 926,2282.5 928,2277.3 930,2271.9 932,2266.5 934,2260.9 936,2255.2 938,2249.3 940,2243.3 942,2237.3 944,2231 946,2224.7 948,2218.3 950,2211.8 952,2205.1 954,2198.4 956,2191.5 958,2184.6 960,2177.6 962,2170.5 964,2163.4 966,2156.2 968,2149 970,2141.7 972,2134.4 974,2127.1 976,2119.8 978,2112.5 980,2105.2 982,2097.9 984,2090.6 986,2083.3 988,2076.2 990,2069 992,2061.9 994,2054.9 996,2048 998,2041.1 1000,2034.3 1002,2027.6 1004,2021 1006,2014.4 1008,2007.9 1010,2001.4 1012,1995 1014,1988.6 1016.1,1982.3 1018.1,1976 1020.1,1969.8 1022.1,1963.6 1024.1,1957.5 1026.1,1951.4 1028.1,1945.3 1030.1,1939.3 1032.1,1933.2 1034.1,1927.3 1036.1,1921.3 1038.1,1915.3 1040.1,1909.4 1042.1,1903.5 1044.1,1897.6 1046.1,1891.7 1048.1,1885.8 1050.1,1879.9 1052.1,1874.1 1054.1,1868.3 1056.1,1862.5 1058.1,1856.7 1060.1,1851 1062.1,1845.3 1064.1,1839.7 1066.1,1834.1 1068.1,1828.6 1070.1,1823.1 1072.1,1817.7 1074.1,1812.4 1076.1,1807.1 1078.1,1801.9 1080.1,1796.8 1082.1,1791.7 1084.1,1786.7 1086.1,1781.8 1088.1,1777 1090.1,1772.2 1092.1,1767.6 1094.1,1762.9 1096.1,1758.4 1098.1,1754 1100.1,1749.6 1102.1,1745.3 1104.1,1741.1 1106.1,1736.9 1108.1,1732.9 1110.1,1728.9 1112.1,1725 1114.1,1721.2 1116.1,1717.4 1118.1,1713.7 1120.1,1710.1 1122.1,1706.6 1124.1,1703.1 1126.1,1699.8 1128.1,1696.5 1130.1,1693.2 1132.1,1690.1 1134.1,1687 1136.1,1684 1138.1,1681 1140.1,1678.2 1142.1,1675.4 1144.2,1672.7 1146.2,1670 1148.2,1667.5 1150.2,1665 1152.2,1662.5 1154.2,1660.2 1156.2,1657.9 1158.2,1655.7 1160.2,1653.6 1162.2,1651.5 1164.2,1649.5 1166.2,1647.6 1168.2,1645.7 1170.2,1643.9 1172.2,1642.2 1174.2,1640.5 1176.2,1638.9 1178.2,1637.4 1180.2,1635.9 1182.2,1634.5 1184.2,1633.2 1186.2,1631.9 1188.2,1630.7 1190.2,1629.6 1192.2,1628.5 1194.2,1627.4 1196.2,1626.5 1198.2,1625.6 1200.2,1624.7 1202.2,1623.9 1204.2,1623.2 1206.2,1622.5 1208.2,1621.8 1210.2,1621.2 1212.2,1620.7 1214.2,1620.2 1216.2,1619.7 1218.2,1619.3 1220.2,1618.9 1222.2,1618.6 1224.2,1618.3 1226.2,1618 1228.2,1617.8 1230.2,1617.7 1232.2,1617.5 1234.2,1617.4 1236.2,1617.3 1238.2,1617.3 1240.2,1617.3 1242.2,1617.3 1244.2,1617.3 1246.2,1617.4 1248.2,1617.5 1250.2,1617.6 1252.2,1617.7 1254.2,1617.8 1256.2,1618 1258.2,1618.2 1260.2,1618.4 1262.2,1618.6 1264.2,1618.9 1266.2,1619.1 1268.2,1619.4 1270.3,1619.6 1272.3,1619.9 1274.3,1620.2 1276.3,1620.5 1278.3,1620.8 1280.3,1621.2 1282.3,1621.5 1284.3,1621.8 1286.3,1622.2 1288.3,1622.5 1290.3,1622.8 1292.3,1623.2 1294.3,1623.5 1296.3,1623.9 1298.3,1624.2 1300.3,1624.5 1302.3,1624.9 1304.3,1625.2 1306.3,1625.5 1308.3,1625.9 1310.3,1626.2 1312.3,1626.5 1314.3,1626.8 1316.3,1627.1 1318.3,1627.4 1320.3,1627.6 1322.3,1627.9 1324.3,1628.1 1326.3,1628.3 1328.3,1628.6 1330.3,1628.8 1332.3,1629 1334.3,1629.1 1336.3,1629.3 1338.3,1629.5 1340.3,1629.6 1342.3,1629.7 1344.3,1629.9 1346.3,1630 1348.3,1630.1 1350.3,1630.2 1352.3,1630.3 1354.3,1630.3 1356.3,1630.4 1358.3,1630.5 1360.3,1630.5 1362.3,1630.6 1364.3,1630.6 1366.3,1630.6 1368.3,1630.6 1370.3,1630.7 1372.3,1630.7 1374.3,1630.7 1376.3,1630.7 1378.3,1630.7 1380.3,1630.6 1382.3,1630.6 1384.3,1630.6 1386.3,1630.6 1388.3,1630.6 1390.3,1630.5 1392.3,1630.5 1394.3,1630.5 1396.3,1630.5 1398.4,1630.4 1400.4,1630.4 1402.4,1630.4 1404.4,1630.4 1406.4,1630.3 1408.4,1630.3 1410.4,1630.3 1412.4,1630.3 1414.4,1630.3 1416.4,1630.2 1418.4,1630.2 1420.4,1630.2 1422.4,1630.2 1424.4,1630.2 1426.4,1630.2 1428.4,1630.1 1430.4,1630.1 1432.4,1630.1 1434.4,1630.1 1436.4,1630.1 1438.4,1630.1 1440.4,1630.1 1442.4,1630.1 1444.4,1630.1 1446.4,1630.1 1448.4,1630 1450.4,1630 1452.4,1630 1454.4,1630 1456.4,1630 1458.4,1630 1460.4,1630 1462.4,1630 1464.4,1630 1466.4,1630 1468.4,1630 1470.4,1630 1472.4,1630 1474.4,1630 1476.4,1630 1478.4,1630 1480.4,1630 1482.4,1630 1484.4,1630 1486.4,1630 1488.4,1630 1490.4,1630 1492.4,1630 1494.4,1630 1496.4,1630 1498.4,1630 1500.4,1630 1502.4,1630 1504.4,1630 1506.4,1630 1508.4,1630 1510.4,1630 1512.4,1630 1514.4,1630 1516.4,1630 1518.4,1630 1520.4,1630 1522.4,1630 1524.4,1630 1526.5,1630 1528.5,1630 1530.5,1630 1532.5,1630 1534.5,1630 1536.5,1630 1538.5,1630 1540.5,1630 1542.5,1630 1544.5,1630 1546.5,1630 1548.5,1630 1550.5,1630 1552.5,1630 1554.5,1630 1556.5,1630 1558.5,1630 1560.5,1630 1562.5,1630 1564.5,1630 1566.5,1630 1568.5,1630 1570.5,1630 1572.5,1630 1574.5,1630 1576.5,1630 1578.5,1630 1580.5,1630 1582.5,1630 1584.5,1630 1586.5,1630 1588.5,1630 1590.5,1630 1592.5,1630 1594.5,1630 1596.5,1630 1598.5,1630 1600.5,1630 1602.5,1630 1604.5,1629.9 1606.5,1629.9 1608.5,1629.9 1610.5,1629.9 1612.5,1629.9 1614.5,1629.9 1616.5,1629.9 1618.5,1629.9 1620.5,1629.9 1622.5,1629.9 1624.5,1629.9 1626.5,1629.8 1628.5,1629.8 1630.5,1629.8 1632.5,1629.8 1634.5,1629.8 1636.5,1629.8 1638.5,1629.8 1640.5,1629.8 1642.5,1629.7 1644.5,1629.7 1646.5,1629.7 1648.5,1629.7 1650.5,1629.7 1652.5,1629.7 1654.6,1629.7 1656.6,1629.7 1658.6,1629.7 1660.6,1629.6 1662.6,1629.6 1664.6,1629.6 1666.6,1629.6 1668.6,1629.6 1670.6,1629.6 1672.6,1629.6 1674.6,1629.6 1676.6,1629.6 1678.6,1629.6 1680.6,1629.6 1682.6,1629.5 1684.6,1629.5 1686.6,1629.5 1688.6,1629.5 1690.6,1629.5 1692.6,1629.5 1694.6,1629.5 1696.6,1629.5 1698.6,1629.5 1700.6,1629.5 1702.6,1629.5 1704.6,1629.5 1706.6,1629.5 1708.6,1629.5 1710.6,1629.5 1712.6,1629.5 1714.6,1629.5 1716.6,1629.5 1718.6,1629.5 1720.6,1629.5 1722.6,1629.5 1724.6,1629.5 1726.6,1629.5 1728.6,1629.5 1730.6,1629.5 1732.6,1629.5 1734.6,1629.5 1736.6,1629.5 1738.6,1629.5 1740.6,1629.5 1742.6,1629.5 1744.6,1629.5 1746.6,1629.5 1748.6,1629.5 1750.6,1629.5 1752.6,1629.5 1754.6,1629.5 1756.6,1629.5 1758.6,1629.5 1760.6,1629.5 1762.6,1629.5 1764.6,1629.5 1766.6,1629.4 1768.6,1629.5 1770.6,1629.5 1772.6,1629.5 1774.6,1629.5 1776.6,1629.5 1778.6,1629.5 1780.6,1629.6 1782.7,1629.6 1784.7,1629.7 1786.7,1629.8 1788.7,1629.9 1790.7,1630 1792.7,1630.2 1794.7,1630.4 1796.7,1630.6 1798.7,1630.8 1800.7,1631 1802.7,1631.3 1804.7,1631.7 1806.7,1632 1808.7,1632.4 1810.7,1632.8 1812.7,1633.3 1814.7,1633.8 1816.7,1634.4 1818.7,1635 1820.7,1635.7 1822.7,1636.4 1824.7,1637.1 1826.7,1638 1828.7,1638.8 1830.7,1639.7 1832.7,1640.7 1834.7,1641.8 1836.7,1642.9 1838.7,1644 1840.7,1645.3 1842.7,1646.6 1844.7,1647.9 1846.7,1649.3 1848.7,1650.9 1850.7,1652.4 1852.7,1654.1 1854.7,1655.8 1856.7,1657.6 1858.7,1659.5 1860.7,1661.4 1862.7,1663.5 1864.7,1665.6 1866.7,1667.8 1868.7,1670 1870.7,1672.4 1872.7,1674.8 1874.7,1677.3 1876.7,1679.9 1878.7,1682.6 1880.7,1685.3 1882.7,1688.2 1884.7,1691.1 1886.7,1694.1 1888.7,1697.1 1890.7,1700.3 1892.7,1703.5 1894.7,1706.8 1896.7,1710.1 1898.7,1713.6 1900.7,1717.1 1902.7,1720.6 1904.7,1724.3 1906.7,1728 1908.7,1731.7 1910.8,1735.6 1912.8,1739.4 1914.8,1743.4 1916.8,1747.4 1918.8,1751.4 1920.8,1755.6 1922.8,1759.7 1924.8,1763.9 1926.8,1768.2 1928.8,1772.5 1930.8,1776.8 1932.8,1781.2 1934.8,1785.6 1936.8,1790.1 1938.8,1794.5 1940.8,1799.1 1942.8,1803.6 1944.8,1808.2 1946.8,1812.8 1948.8,1817.5 1950.8,1822.2 1952.8,1826.9 1954.8,1831.7 1956.8,1836.5 1958.8,1841.4 1960.8,1846.2 1962.8,1851.1 1964.8,1856.1 1966.8,1861.1 1968.8,1866.1 1970.8,1871.2 1972.8,1876.3 1974.8,1881.5 1976.8,1886.8 1978.8,1892.1 1980.8,1897.4 1982.8,1902.8 1984.8,1908.3 1986.8,1913.8 1988.8,1919.5 1990.8,1925.1 1992.8,1930.9 1994.8,1936.7 1996.8,1942.5 1998.8,1948.4 2000.8,1954.4 2002.8,1960.4 2004.8,1966.5 2006.8,1972.7 2008.8,1978.9 2010.8,1985.1 2012.8,1991.4 2014.8,1997.7 2016.8,2004.1 2018.8,2010.5 2020.8,2017 2022.8,2023.5 2024.8,2030.1 2026.8,2036.7 2028.8,2043.3 2030.8,2050 2032.8,2056.7 2034.8,2063.5 2036.8,2070.2 2038.9,2077 2040.9,2083.9 2042.9,2090.7 2044.9,2097.5 2046.9,2104.4 2048.9,2111.3 2050.9,2118.2 2052.9,2125 2054.9,2131.9 2056.9,2138.8 2058.9,2145.6 2060.9,2152.5 2062.9,2159.3 2064.9,2166.1 2066.9,2172.9 2068.9,2179.6 2070.9,2186.3 2072.9,2193 2074.9,2199.7 2076.9,2206.3 2078.9,2212.8 2080.9,2219.3 2082.9,2225.7 2084.9,2232.1 2086.9,2238.4 2088.9,2244.6 2090.9,2250.7 2092.9,2256.8 2094.9,2262.8 2096.9,2268.7 2098.9,2274.5 2100.9,2280.2 2102.9,2285.8 2104.9,2291.3 2106.9,2296.8 2108.9,2302.1 2110.9,2307.4 2112.9,2312.5 2114.9,2317.6 2116.9,2322.6 2118.9,2327.4 2120.9,2332.2 2122.9,2336.9 2124.9,2341.5 2126.9,2346 2128.9,2350.5 2130.9,2354.8 2132.9,2359 2134.9,2363.2 2136.9,2367.3 2138.9,2371.3 2140.9,2375.2 2142.9,2379 2144.9,2382.8 2146.9,2386.5 2148.9,2390 2150.9,2393.6 2152.9,2397 2154.9,2400.4 2156.9,2403.7 2158.9,2406.9 2160.9,2410.1 2162.9,2413.2 2164.9,2416.2 2167,2419.1 2169,2422 2171,2424.8 2173,2427.6 2175,2430.3 2177,2432.9 2179,2435.4 2181,2437.9 2183,2440.4 2185,2442.7 2187,2445 2189,2447.3 2191,2449.4 2193,2451.6 2195,2453.6 2197,2455.7 2199,2457.6 2201,2459.5 2203,2461.4 2205,2463.2 2207,2465 2209,2466.7 2211,2468.4 2213,2470.1 2215,2471.7 2217,2473.4 2219,2474.9 2221,2476.5 2223,2478.1 2225,2479.6 2227,2481.1 2229,2482.7" stroke="#008000"/>
<path d="M183.4,2489.8 185.4,2489.8 187.4,2489.8 189.4,2489.8 191.4,2489.8 193.4,2489.8 195.4,2489.8 197.4,2489.8 199.4,2489.8 201.4,2489.8 202.4,2489.8M218.4,2489.8 219.4,2489.8 221.4,2489.8 223.4,2489.8 225.4,2489.8 227.4,2489.8 229.4,2489.8 231.4,2489.8 233.4,2489.8 235.4,2489.8 237.2,2489.8M253.4,2489.8 253.5,2489.8 255.5,2489.8 257.5,2489.8 259.5,2489.8 261.5,2489.8 263.5,2489.8 265.5,2489.8 267.5,2489.8 269.5,2489.8 271.5,2489.8 272.1,2489.8M288.1,2489.8 289.5,2489.8 291.5,2489.8 293.5,2489.8 295.5,2489.8 297.5,2489.8 299.5,2489.8 301.5,2489.8 303.5,2489.8 305.5,2489.8 306.9,2489.8M323.1,2489.8 323.5,2489.8 325.5,2489.8 327.5,2489.8 329.5,2489.8 331.5,2489.8 333.5,2489.8 335.5,2489.8 337.5,2489.8 339.5,2489.8 341.5,2489.8 341.9,2489.8M357.9,2489.8 359.5,2489.8 361.5,2489.8 363.5,2489.8 365.5,2489.8 367.5,2489.8 369.5,2489.8 371.5,2489.8 373.5,2489.8 375.6,2489.8 376.9,2489.8M392.9,2489.8 393.6,2489.8 395.6,2489.8 397.6,2489.8 399.6,2489.8 401.6,2489.8 403.6,2489.8 405.6,2489.8 407.6,2489.8 409.6,2489.8 411.6,2489.8 411.6,2489.8M427.6,2489.8 429.6,2489.8 431.6,2489.8 433.6,2489.8 435.6,2489.8 437.6,2489.8 439.6,2489.8 441.6,2489.8 443.6,2489.8 445.6,2489.8 446.6,2489.8M462.6,2489.8 463.6,2489.8 465.6,2489.8 467.6,2489.8 469.6,2489.8 471.6,2489.8 473.6,2489.8 475.6,2489.8 477.6,2489.8 479.6,2489.8 481.4,2489.8M497.4,2489.8 497.6,2489.8 499.6,2489.8 501.6,2489.8 503.7,2489.8 505.7,2489.8 507.7,2489.8 509.7,2489.8 511.7,2489.8 513.7,2489.8 515.7,2489.8 516.4,2489.8M532.4,2489.8 533.7,2489.8 535.7,2489.8 537.7,2489.8 539.7,2489.8 541.7,2489.8 543.7,2489.8 545.7,2489.8 547.7,2489.8 549.7,2489.8 551.1,2489.8M567.4,2489.8 567.7,2489.8 569.7,2489.8 571.7,2489.8 573.7,2489.8 575.7,2489.8 577.7,2489.8 579.7,2489.8 581.7,2489.8 583.7,2489.8 585.7,2489.8 586.1,2489.8M602.1,2489.8 603.7,2489.8 605.7,2489.8 607.7,2489.8 609.7,2489.8 611.7,2489.8 613.7,2489.8 615.7,2489.8 617.7,2489.8 619.7,2489.8 620.9,2489.8M637.1,2489.8 637.8,2489.8 639.8,2489.8 641.8,2489.8 643.8,2489.8 645.8,2489.8 647.8,2489.8 649.8,2489.8 651.8,2489.8 653.8,2489.8 655.8,2489.8 655.9,2489.8M671.9,2489.9 673.8,2489.9 675.8,2489.9 677.8,2489.9 679.8,2489.8 681.8,2489.7 683.8,2489.6 685.8,2489.5 687.8,2489.4 689.8,2489.2 690.6,2489.1M706.4,2486.8 707.8,2486.5 709.8,2486.1 711.8,2485.6 713.8,2485.1 715.8,2484.6 717.8,2484 719.8,2483.4 721.8,2482.7 723.8,2482 724.5,2481.8M739.1,2475.4 739.8,2475 741.8,2473.9 743.8,2472.8 745.8,2471.6 747.8,2470.4 749.8,2469.1 751.8,2467.8 753.8,2466.4 755.3,2465.4M767.7,2455.3 767.9,2455.2 769.9,2453.3 771.9,2451.4 773.9,2449.4 775.9,2447.4 777.9,2445.3 779.9,2443.1 780.9,2442M791.1,2429.7 791.9,2428.7 793.9,2426.1 795.9,2423.4 797.9,2420.7 799.9,2417.9 801.9,2415 802.3,2414.4M811.1,2401 811.9,2399.7 813.9,2396.4 815.9,2393.1 817.9,2389.7 819.9,2386.3 820.8,2384.7M828.8,2370.2 829.9,2368.1 831.9,2364.3 833.9,2360.4 835.9,2356.4 837.5,2353.3M844.4,2338.9 845.9,2335.7 847.9,2331.4 849.9,2327.1 851.9,2322.6 852.4,2321.6M858.8,2307 859.9,2304.4 861.9,2299.7 863.9,2294.9 865.9,2290.1 866.1,2289.7M872.1,2275.1 873.9,2270.4 875.9,2265.4 877.9,2260.3 878.9,2257.9M884.4,2243.5 885.9,2239.5 888,2234.2 890,2228.8 890.9,2226.2M896.5,2211.1 898,2207 900,2201.5 902,2195.9 902.9,2193.3M908.2,2178.2 910,2173.3 912,2167.5 914,2161.8 914.5,2160.2M919.9,2144.6 920,2144.3 922,2138.4 924,2132.5 926,2126.6 926,2126.4M931.1,2111.2 932,2108.7 934,2102.6 936,2096.6 937.1,2093.2M942.1,2078 944,2072.4 946,2066.3 948,2060.2 948.1,2060M953.1,2044.8 954,2041.9 956,2035.7 958,2029.6 959,2026.7M964,2011.3 966,2005.2 968,1999.1 969.9,1993.4M975,1978 976,1974.9 978,1968.9 980,1962.9 980.9,1960.2M985.8,1945.5 986,1945 988,1939.1 990,1933.2 991.9,1927.8M997.2,1912.4 998,1910 1000,1904.3 1002,1898.6 1003.4,1894.7M1008.9,1879.7 1010,1876.6 1012,1871.2 1014,1866 1015.7,1861.7M1021.7,1846.3 1022.1,1845.5 1024.1,1840.5 1026.1,1835.6 1028.1,1830.8 1028.9,1828.8M1035.3,1814.1 1036.1,1812.3 1038.1,1807.9 1040.1,1803.5 1042.1,1799.2 1043.1,1797M1050.2,1782.4 1052.1,1778.5 1054.1,1774.6 1056.1,1770.7 1058.1,1766.9 1058.9,1765.5M1066.7,1751.3 1068.1,1748.8 1070.1,1745.4 1072.1,1742 1074.1,1738.6 1076.1,1735.4 1076.2,1735.1M1084.7,1721.9 1086.1,1719.9 1088.1,1716.9 1090.1,1714.1 1092.1,1711.2 1094.1,1708.5 1095.5,1706.6M1105.4,1693.9 1106.1,1693.1 1108.1,1690.7 1110.1,1688.3 1112.1,1686 1114.1,1683.8 1116.1,1681.6 1117.7,1679.8M1129,1668.5 1130.1,1667.5 1132.1,1665.7 1134.1,1663.9 1136.1,1662.2 1138.1,1660.5 1140.1,1658.9 1142.1,1657.4 1143.6,1656.3M1156.8,1647.4 1158.2,1646.6 1160.2,1645.4 1162.2,1644.4 1164.2,1643.3 1166.2,1642.3 1168.2,1641.4 1170.2,1640.4 1172.2,1639.6 1173.8,1638.9M1189,1633.8 1190.2,1633.5 1192.2,1633 1194.2,1632.5 1196.2,1632 1198.2,1631.6 1200.2,1631.2 1202.2,1630.9 1204.2,1630.5 1206.2,1630.2 1207.3,1630.1M1223.5,1628.5 1224.2,1628.4 1226.2,1628.3 1228.2,1628.2 1230.2,1628.1 1232.2,1628.1 1234.2,1628 1236.2,1628 1238.2,1628 1240.2,1628 1242.2,1627.9 1242.5,1627.9M1258.5,1628 1260.2,1628 1262.2,1628 1264.2,1628 1266.2,1628 1268.2,1628 1270.3,1628 1272.3,1628 1274.3,1628 1276.3,1628 1277.2,1628M1293.5,1628 1294.3,1628 1296.3,1628 1298.3,1628 1300.3,1628 1302.3,1628 1304.3,1628 1306.3,1628 1308.3,1628 1310.3,1628 1312.2,1628M1328.2,1628 1328.3,1628 1330.3,1628 1332.3,1628 1334.3,1628 1336.3,1628 1338.3,1628 1340.3,1628 1342.3,1628 1344.3,1628 1346.3,1628 1347.2,1628M1363.2,1628 1364.3,1628 1366.3,1628 1368.3,1628 1370.3,1628 1372.3,1628 1374.3,1628 1376.3,1628 1378.3,1628 1380.3,1628 1382.2,1628M1398.2,1628 1398.4,1628 1400.4,1628 1402.4,1628 1404.4,1628 1406.4,1628 1408.4,1628 1410.4,1628 1412.4,1628 1414.4,1628 1416.4,1628 1417,1628M1433.2,1628 1434.4,1628 1436.4,1628 1438.4,1628 1440.4,1628 1442.4,1628 1444.4,1628 1446.4,1628 1448.4,1628 1450.4,1628 1452,1628M1468.2,1628 1468.4,1628 1470.4,1628 1472.4,1628 1474.4,1628 1476.4,1628 1478.4,1628 1480.4,1628 1482.4,1628 1484.4,1628 1486.4,1628 1487,1628M1503,1628 1504.4,1628 1506.4,1628 1508.4,1628 1510.4,1628 1512.4,1628 1514.4,1628 1516.4,1628 1518.4,1628 1520.4,1628 1522,1628M1538,1628 1538.5,1628 1540.5,1628 1542.5,1628 1544.5,1628 1546.5,1628 1548.5,1628 1550.5,1628 1552.5,1628 1554.5,1628 1556.5,1628 1556.7,1628M1573,1628 1574.5,1628 1576.5,1628 1578.5,1628 1580.5,1628 1582.5,1628 1584.5,1628 1586.5,1628 1588.5,1628 1590.5,1628 1591.7,1628M1608,1628 1608.5,1628 1610.5,1628 1612.5,1628 1614.5,1628 1616.5,1628 1618.5,1628 1620.5,1628 1622.5,1628 1624.5,1628 1626.5,1628 1626.7,1628M1642.7,1628 1644.5,1628 1646.5,1628 1648.5,1628 1650.5,1628 1652.5,1628 1654.6,1628 1656.6,1628 1658.6,1628 1660.6,1628 1661.7,1628M1677.7,1628 1678.6,1628 1680.6,1628 1682.6,1628 1684.6,1628 1686.6,1628 1688.6,1628 1690.6,1628 1692.6,1628 1694.6,1628 1696.6,1628 1696.7,1628M1712.7,1628 1714.6,1628.1 1716.6,1628.1 1718.6,1628.2 1720.6,1628.2 1722.6,1628.3 1724.6,1628.4 1726.6,1628.6 1728.6,1628.7 1730.6,1628.9 1731.5,1629M1747.5,1631.4 1748.6,1631.6 1750.6,1632.1 1752.6,1632.6 1754.6,1633.1 1756.6,1633.6 1758.6,1634.2 1760.6,1634.8 1762.6,1635.5 1764.6,1636.2 1765.5,1636.5M1780.1,1643.1 1780.6,1643.4 1782.7,1644.5 1784.7,1645.7 1786.7,1646.9 1788.7,1648.2 1790.7,1649.6 1792.7,1651 1794.7,1652.5 1796,1653.5M1808,1664 1808.7,1664.7 1810.7,1666.7 1812.7,1668.8 1814.7,1670.9 1816.7,1673.2 1818.7,1675.5 1820.7,1677.8 1820.8,1678M1830.7,1690.9 1832.7,1693.7 1834.7,1696.6 1836.7,1699.6 1838.7,1702.7 1840.7,1705.8 1841.1,1706.5M1849.5,1720.5 1850.7,1722.6 1852.7,1726.2 1854.7,1729.9 1856.7,1733.6 1858.5,1736.9M1865.8,1751.4 1866.7,1753.3 1868.7,1757.4 1870.7,1761.6 1872.7,1765.9 1873.9,1768.4M1880.6,1783.2 1880.7,1783.5 1882.7,1788 1884.7,1792.6 1886.7,1797.3 1888.1,1800.3M1894.4,1815.3 1894.7,1816.2 1896.7,1821.1 1898.7,1825.9 1900.7,1830.8 1901.5,1832.7M1907.3,1847.1 1908.7,1850.8 1910.8,1855.9 1912.8,1861 1913.9,1864M1919.3,1878 1920.8,1881.9 1922.8,1887.3 1924.8,1892.7 1925.5,1894.7M1930.7,1909 1930.8,1909.2 1932.8,1914.9 1934.8,1920.6 1936.7,1926M1941.7,1940.7 1942.8,1944 1944.8,1950 1946.8,1956 1947.6,1958.5M1952.5,1973.7 1952.8,1974.4 1954.8,1980.6 1956.8,1986.9 1958.3,1991.8M1963.2,2007 1964.8,2012.1 1966.8,2018.5 1968.8,2024.9M1973.6,2040.4 1974.8,2044.2 1976.8,2050.7 1978.8,2057.1 1979.2,2058.6M1984,2073.9 1984.8,2076.6 1986.8,2083 1988.8,2089.5 1989.6,2092M1994.4,2107.5 1994.8,2108.8 1996.8,2115.2 1998.8,2121.6 2000,2125.4M2004.8,2140.7 2006.8,2147 2008.8,2153.2 2010.6,2158.8M2015.6,2174.2 2016.8,2177.9 2018.8,2184 2020.8,2190 2021.5,2192M2026.6,2206.9 2026.8,2207.7 2028.8,2213.5 2030.8,2219.3 2032.7,2224.7M2038.1,2239.7 2038.9,2241.7 2040.9,2247.1 2042.9,2252.5 2044.8,2257.8M2050.7,2272.9 2050.9,2273.4 2052.9,2278.5 2054.9,2283.5 2056.9,2288.4 2057.8,2290.8M2064.1,2305.8 2064.9,2307.5 2066.9,2312.1 2068.9,2316.6 2070.9,2321.1 2071.8,2323.1M2078.6,2337.6 2078.9,2338.2 2080.9,2342.4 2082.9,2346.4 2084.9,2350.5 2086.8,2354.2M2094.1,2368.2 2094.9,2369.6 2096.9,2373.2 2098.9,2376.8 2100.9,2380.3 2102.9,2383.7 2103.2,2384.3M2111.7,2398.2 2112.9,2400.2 2114.9,2403.3 2116.9,2406.3 2118.9,2409.3 2120.9,2412.2 2122,2413.8M2131.4,2426.7 2132.9,2428.7 2134.9,2431.2 2136.9,2433.7 2138.9,2436.1 2140.9,2438.5 2142.9,2440.8 2143.3,2441.2M2154.3,2452.8 2154.9,2453.4 2156.9,2455.3 2158.9,2457.2 2160.9,2459 2162.9,2460.7 2164.9,2462.4 2167,2464.1 2168.4,2465.2M2181.4,2474.1 2183,2475.1 2185,2476.2 2187,2477.3 2189,2478.4 2191,2479.3 2193,2480.3 2195,2481.1 2197,2481.9 2198.2,2482.4M2213.7,2487 2215,2487.2 2217,2487.6 2219,2487.9 2221,2488.2 2223,2488.4 2225,2488.6 2227,2488.8 2229,2488.9" stroke="#0000ff"/>
</g>
<g class="tk" font-size="47.3">
<text transform="translate(182.8,2660) scale(0.94,1)" text-anchor="middle">0</text>
<text transform="translate(423.6,2660) scale(0.94,1)" text-anchor="middle">1</text>
<text transform="translate(664.4,2660) scale(0.94,1)" text-anchor="middle">2</text>
<text transform="translate(905.2,2660) scale(0.94,1)" text-anchor="middle">3</text>
<text transform="translate(1146,2660) scale(0.94,1)" text-anchor="middle">4</text>
<text transform="translate(1386.7,2660) scale(0.94,1)" text-anchor="middle">5</text>
<text transform="translate(1627.5,2660) scale(0.94,1)" text-anchor="middle">6</text>
<text transform="translate(1868.3,2660) scale(0.94,1)" text-anchor="middle">7</text>
<text transform="translate(2109.1,2660) scale(0.94,1)" text-anchor="middle">8</text>
<text transform="translate(2349.9,2660) scale(0.94,1)" text-anchor="middle">9</text>
<text transform="translate(166.3,2615.6) scale(0.94,1)" text-anchor="end">-0.5</text>
<text transform="translate(166.3,2508.1) scale(0.94,1)" text-anchor="end">-0.4</text>
<text transform="translate(166.3,2400.6) scale(0.94,1)" text-anchor="end">-0.3</text>
<text transform="translate(166.3,2293.1) scale(0.94,1)" text-anchor="end">-0.2</text>
<text transform="translate(166.3,2185.6) scale(0.94,1)" text-anchor="end">-0.1</text>
<text transform="translate(166.3,2078.1) scale(0.94,1)" text-anchor="end">0</text>
<text transform="translate(166.3,1970.6) scale(0.94,1)" text-anchor="end">0.1</text>
<text transform="translate(166.3,1863.1) scale(0.94,1)" text-anchor="end">0.2</text>
<text transform="translate(166.3,1755.6) scale(0.94,1)" text-anchor="end">0.3</text>
<text transform="translate(166.3,1648.1) scale(0.94,1)" text-anchor="end">0.4</text>
<text transform="translate(166.3,1540.6) scale(0.94,1)" text-anchor="end">0.5</text>
</g>
<g class="tk" font-size="59.3">
<text x="1267" y="2734.2" text-anchor="middle">Time (second)</text>
<text transform="translate(64.8,2061) rotate(-90)" text-anchor="middle">y (m)</text>
</g>
<g class="lg" font-size="41.4">
<rect x="183.4" y="1521.5" width="832.1" height="179.6" fill="#fff" stroke="#262626" stroke-width="3"/>
<path d="M197.5,1555.1 H291.8" stroke="#ff0000" stroke-width="6.9" fill="none"/>
<text x="296.8" y="1572.1">desired output</text>
<path d="M197.5,1610.7 H291.8" stroke="#008000" stroke-width="6.9" fill="none"/>
<text x="296.8" y="1627.7">uncompensated output of RobotStudio</text>
<path d="M200.5,1667.4 H291.8" stroke="#0000ff" stroke-width="6.9" fill="none" stroke-dasharray="18.9 16.1"/>
<text x="296.8" y="1684.3">compensated output of RobotStudio</text>
</g>
<text class="cap" x="1230.5" y="2871" text-anchor="middle" font-size="77.7" transform="translate(1230.5,0) scale(0.92,1) translate(-1230.5,0)">(<tspan font-weight="bold">b</tspan>)</text>
</g>
<g id="plot-c">
<path d="M457.7,4051.2 v-22.9 M457.7,2991.5 v22.9 M695,4051.2 v-22.9 M695,2991.5 v22.9 M932.2,4051.2 v-22.9 M932.2,2991.5 v22.9 M1169.4,4051.2 v-22.9 M1169.4,2991.5 v22.9 M1406.7,4051.2 v-22.9 M1406.7,2991.5 v22.9 M1643.9,4051.2 v-22.9 M1643.9,2991.5 v22.9 M1881.1,4051.2 v-22.9 M1881.1,2991.5 v22.9 M2118.4,4051.2 v-22.9 M2118.4,2991.5 v22.9 M220.5,3933.5 h22.9 M2355.6,3933.5 h-22.9 M220.5,3815.7 h22.9 M2355.6,3815.7 h-22.9 M220.5,3698 h22.9 M2355.6,3698 h-22.9 M220.5,3580.2 h22.9 M2355.6,3580.2 h-22.9 M220.5,3462.5 h22.9 M2355.6,3462.5 h-22.9 M220.5,3344.7 h22.9 M2355.6,3344.7 h-22.9 M220.5,3227 h22.9 M2355.6,3227 h-22.9 M220.5,3109.2 h22.9 M2355.6,3109.2 h-22.9" stroke="#262626" stroke-width="2.9" fill="none"/>
<rect x="220.5" y="2991.5" width="2135.1" height="1059.7" fill="none" stroke="#262626" stroke-width="2.9"/>
<g fill="none" stroke-linejoin="round" stroke-width="6.8">
<path d="M220.5,3462.5 222.5,3462.5 224.5,3462.5 226.5,3462.5 228.5,3462.5 230.5,3462.5 232.5,3462.5 234.5,3462.5 236.5,3462.5 238.5,3462.5 240.5,3462.5 242.5,3462.5 244.5,3462.5 246.5,3462.5 248.5,3462.5 250.5,3462.5 252.5,3462.5 254.5,3462.5 256.5,3462.5 258.5,3462.5 260.5,3462.5 262.5,3462.5 264.5,3462.5 266.5,3462.5 268.5,3462.5 270.5,3462.5 272.5,3462.5 274.5,3462.5 276.5,3462.5 278.5,3462.5 280.5,3462.5 282.5,3462.5 284.5,3462.5 286.5,3462.5 288.5,3462.5 290.5,3462.5 292.5,3462.5 294.5,3462.5 296.5,3462.5 298.5,3462.5 300.5,3462.5 302.5,3462.5 304.5,3462.5 306.5,3462.5 308.5,3462.5 310.5,3462.5 312.5,3462.5 314.5,3462.5 316.5,3462.5 318.5,3462.5 320.5,3462.5 322.6,3462.5 324.6,3462.5 326.6,3462.5 328.6,3462.5 330.6,3462.5 332.6,3462.5 334.6,3462.5 336.6,3462.5 338.6,3462.5 340.6,3462.5 342.6,3462.5 344.6,3462.5 346.6,3462.5 348.6,3462.5 350.6,3462.5 352.6,3462.5 354.6,3462.5 356.6,3462.5 358.6,3462.5 360.6,3462.5 362.6,3462.5 364.6,3462.5 366.6,3462.5 368.6,3462.5 370.6,3462.5 372.6,3462.5 374.6,3462.5 376.6,3462.5 378.6,3462.5 380.6,3462.5 382.6,3462.5 384.6,3462.5 386.6,3462.5 388.6,3462.5 390.6,3462.5 392.6,3462.5 394.6,3462.5 396.6,3462.5 398.6,3462.5 400.6,3462.5 402.6,3462.5 404.6,3462.5 406.6,3462.5 408.6,3462.5 410.6,3462.5 412.6,3462.5 414.6,3462.5 416.6,3462.5 418.6,3462.5 420.6,3462.5 422.6,3462.5 424.6,3462.5 426.6,3462.5 428.6,3462.5 430.6,3462.5 432.6,3462.5 434.6,3462.5 436.6,3462.5 438.6,3462.5 440.6,3462.5 442.6,3462.5 444.6,3462.5 446.6,3462.5 448.6,3462.5 450.6,3462.5 452.6,3462.5 454.6,3462.5 456.6,3462.5 458.6,3462.5 460.6,3462.5 462.6,3462.5 464.6,3462.5 466.6,3462.5 468.6,3462.5 470.6,3462.5 472.6,3462.5 474.6,3462.5 476.6,3462.5 478.6,3462.5 480.6,3462.5 482.6,3462.5 484.6,3462.5 486.6,3462.5 488.6,3462.5 490.6,3462.5 492.6,3462.5 494.6,3462.5 496.6,3462.5 498.6,3462.5 500.6,3462.5 502.6,3462.5 504.6,3462.5 506.6,3462.5 508.6,3462.5 510.6,3462.5 512.6,3462.5 514.6,3462.5 516.6,3462.5 518.6,3462.5 520.6,3462.5 522.6,3462.5 524.7,3462.5 526.7,3462.5 528.7,3462.5 530.7,3462.5 532.7,3462.5 534.7,3462.5 536.7,3462.5 538.7,3462.5 540.7,3462.5 542.7,3462.5 544.7,3462.5 546.7,3462.5 548.7,3462.5 550.7,3462.5 552.7,3462.5 554.7,3462.5 556.7,3462.5 558.7,3462.5 560.7,3462.5 562.7,3462.5 564.7,3462.5 566.7,3462.5 568.7,3462.5 570.7,3462.5 572.7,3462.5 574.7,3462.5 576.7,3462.5 578.7,3462.5 580.7,3462.5 582.7,3462.5 584.7,3462.5 586.7,3462.5 588.7,3462.5 590.7,3462.5 592.7,3462.5 594.7,3462.5 596.7,3462.5 598.7,3462.5 600.7,3462.5 602.7,3462.5 604.7,3462.5 606.7,3462.5 608.7,3462.5 610.7,3462.5 612.7,3462.5 614.7,3462.5 616.7,3462.5 618.7,3462.5 620.7,3462.5 622.7,3462.5 624.7,3462.5 626.7,3462.5 628.7,3462.5 630.7,3462.5 632.7,3462.5 634.7,3462.5 636.7,3462.5 638.7,3462.5 640.7,3462.5 642.7,3462.5 644.7,3462.5 646.7,3462.5 648.7,3462.5 650.7,3462.5 652.7,3462.5 654.7,3462.5 656.7,3462.5 658.7,3462.5 660.7,3462.5 662.7,3462.5 664.7,3462.5 666.7,3462.5 668.7,3462.5 670.7,3462.5 672.7,3462.5 674.7,3462.5 676.7,3462.5 678.7,3462.5 680.7,3462.5 682.7,3462.5 684.7,3462.5 686.7,3462.5 688.7,3462.5 690.7,3462.5 692.7,3462.5 694.7,3462.5 696.7,3462.5 698.7,3462.5 700.7,3462.5 702.7,3462.5 704.7,3462.5 706.7,3462.5 708.7,3462.5 710.7,3462.5 712.7,3462.5 714.7,3462.5 716.7,3462.5 718.7,3462.5 720.7,3462.5 722.7,3462.5 724.8,3462.5 726.8,3462.5 728.8,3462.5 730.8,3462.5 732.8,3462.5 734.8,3462.5 736.8,3462.5 738.8,3462.5 740.8,3462.5 742.8,3462.5 744.8,3462.5 746.8,3462.5 748.8,3462.5 750.8,3462.5 752.8,3462.5 754.8,3462.5 756.8,3462.5 758.8,3462.5 760.8,3462.5 762.8,3462.5 764.8,3462.5 766.8,3462.5 768.8,3462.5 770.8,3462.5 772.8,3462.5 774.8,3462.5 776.8,3462.5 778.8,3462.5 780.8,3462.5 782.8,3462.5 784.8,3462.5 786.8,3462.5 788.8,3462.5 790.8,3462.5 792.8,3462.5 794.8,3462.5 796.8,3462.5 798.8,3462.5 800.8,3462.5 802.8,3462.5 804.8,3462.5 806.8,3462.5 808.8,3462.5 810.8,3462.5 812.8,3462.5 814.8,3462.5 816.8,3462.5 818.8,3462.5 820.8,3462.5 822.8,3462.5 824.8,3462.5 826.8,3462.5 828.8,3462.5 830.8,3462.5 832.8,3462.5 834.8,3462.5 836.8,3462.5 838.8,3462.5 840.8,3462.5 842.8,3462.5 844.8,3462.5 846.8,3462.5 848.8,3462.5 850.8,3462.5 852.8,3462.5 854.8,3462.5 856.8,3462.5 858.8,3462.5 860.8,3462.5 862.8,3462.5 864.8,3462.5 866.8,3462.5 868.8,3462.5 870.8,3462.5 872.8,3462.5 874.8,3462.5 876.8,3462.5 878.8,3462.5 880.8,3462.5 882.8,3462.5 884.8,3462.5 886.8,3462.5 888.8,3462.5 890.8,3462.5 892.8,3462.5 894.8,3462.5 896.8,3462.5 898.8,3462.5 900.8,3462.5 902.8,3462.5 904.8,3462.5 906.8,3462.5 908.8,3462.5 910.8,3462.5 912.8,3462.5 914.8,3462.5 916.8,3462.5 918.8,3462.5 920.8,3462.5 922.8,3462.5 924.8,3462.5 926.9,3462.5 928.9,3462.5 930.9,3462.5 932.9,3462.5 934.9,3462.5 936.9,3462.5 938.9,3462.5 940.9,3462.5 942.9,3462.5 944.9,3462.5 946.9,3462.5 948.9,3462.5 950.9,3462.5 952.9,3462.5 954.9,3462.5 956.9,3462.5 958.9,3462.5 960.9,3462.5 962.9,3462.5 964.9,3462.5 966.9,3462.5 968.9,3462.5 970.9,3462.5 972.9,3462.5 974.9,3462.5 976.9,3462.5 978.9,3462.5 980.9,3462.5 982.9,3462.5 984.9,3462.5 986.9,3462.5 988.9,3462.5 990.9,3462.5 992.9,3462.5 994.9,3462.5 996.9,3462.5 998.9,3462.5 1000.9,3462.5 1002.9,3462.5 1004.9,3462.5 1006.9,3462.5 1008.9,3462.5 1010.9,3462.5 1012.9,3462.5 1014.9,3462.5 1016.9,3462.5 1018.9,3462.5 1020.9,3462.5 1022.9,3462.5 1024.9,3462.5 1026.9,3462.5 1028.9,3462.5 1030.9,3462.5 1032.9,3462.5 1034.9,3462.5 1036.9,3462.5 1038.9,3462.5 1040.9,3462.5 1042.9,3462.5 1044.9,3462.5 1046.9,3462.5 1048.9,3462.5 1050.9,3462.5 1052.9,3462.5 1054.9,3462.5 1056.9,3462.5 1058.9,3462.5 1060.9,3462.5 1062.9,3462.5 1064.9,3462.5 1066.9,3462.5 1068.9,3462.5 1070.9,3462.5 1072.9,3462.5 1074.9,3462.5 1076.9,3462.5 1078.9,3462.5 1080.9,3462.5 1082.9,3462.5 1084.9,3462.5 1086.9,3462.5 1088.9,3462.5 1090.9,3462.5 1092.9,3462.5 1094.9,3462.5 1096.9,3462.5 1098.9,3462.5 1100.9,3462.5 1102.9,3462.5 1104.9,3462.5 1106.9,3462.5 1108.9,3462.5 1110.9,3462.5 1112.9,3462.5 1114.9,3462.5 1116.9,3462.5 1118.9,3462.5 1120.9,3462.5 1122.9,3462.5 1124.9,3462.5 1126.9,3462.5 1129,3462.5 1131,3462.5 1133,3462.5 1135,3462.5 1137,3462.5 1139,3462.5 1141,3462.5 1143,3462.5 1145,3462.5 1147,3462.5 1149,3462.5 1151,3462.5 1153,3462.5 1155,3462.5 1157,3462.5 1159,3462.5 1161,3462.5 1163,3462.5 1165,3462.5 1167,3462.5 1169,3462.5 1171,3462.5 1173,3462.5 1175,3462.5 1177,3462.5 1179,3462.5 1181,3462.5 1183,3462.5 1185,3462.5 1187,3462.5 1189,3462.5 1191,3462.5 1193,3462.5 1195,3462.5 1197,3462.5 1199,3462.5 1201,3462.5 1203,3462.5 1205,3462.5 1207,3462.5 1209,3462.5 1211,3462.5 1213,3462.5 1215,3462.5 1217,3462.5 1219,3462.5 1221,3462.5 1223,3462.5 1225,3462.5 1227,3462.5 1229,3462.5 1231,3462.5 1233,3462.5 1235,3462.5 1237,3462.5 1239,3462.5 1241,3462.5 1243,3462.5 1245,3462.5 1247,3462.5 1249,3462.5 1251,3462.5 1253,3462.5 1255,3462.5 1257,3462.5 1259,3462.5 1261,3462.5 1263,3462.5 1265,3462.5 1267,3462.5 1269,3462.5 1271,3462.5 1273,3462.5 1275,3462.5 1277,3462.5 1279,3462.5 1281,3462.5 1283,3462.5 1285,3462.5 1287,3462.5 1289,3462.5 1291,3462.5 1293,3462.5 1295,3462.5 1297,3462.5 1299,3462.5 1301,3462.5 1303,3462.5 1305,3462.5 1307,3462.5 1309,3462.5 1311,3462.5 1313,3462.5 1315,3462.5 1317,3462.5 1319,3462.5 1321,3462.5 1323,3462.5 1325,3462.5 1327,3462.5 1329.1,3462.5 1331.1,3462.5 1333.1,3462.5 1335.1,3462.5 1337.1,3462.5 1339.1,3462.5 1341.1,3462.5 1343.1,3462.5 1345.1,3462.5 1347.1,3462.5 1349.1,3462.5 1351.1,3462.5 1353.1,3462.5 1355.1,3462.5 1357.1,3462.5 1359.1,3462.5 1361.1,3462.5 1363.1,3462.5 1365.1,3462.5 1367.1,3462.5 1369.1,3462.5 1371.1,3462.5 1373.1,3462.5 1375.1,3462.5 1377.1,3462.5 1379.1,3462.5 1381.1,3462.5 1383.1,3462.5 1385.1,3462.5 1387.1,3462.5 1389.1,3462.5 1391.1,3462.5 1393.1,3462.5 1395.1,3462.5 1397.1,3462.5 1399.1,3462.5 1401.1,3462.5 1403.1,3462.5 1405.1,3462.5 1407.1,3462.5 1409.1,3462.5 1411.1,3462.5 1413.1,3462.5 1415.1,3462.5 1417.1,3462.5 1419.1,3462.5 1421.1,3462.5 1423.1,3462.5 1425.1,3462.5 1427.1,3462.5 1429.1,3462.5 1431.1,3462.5 1433.1,3462.5 1435.1,3462.5 1437.1,3462.5 1439.1,3462.5 1441.1,3462.5 1443.1,3462.5 1445.1,3462.5 1447.1,3462.5 1449.1,3462.5 1451.1,3462.5 1453.1,3462.5 1455.1,3462.5 1457.1,3462.5 1459.1,3462.5 1461.1,3462.5 1463.1,3462.5 1465.1,3462.5 1467.1,3462.5 1469.1,3462.5 1471.1,3462.5 1473.1,3462.5 1475.1,3462.5 1477.1,3462.5 1479.1,3462.5 1481.1,3462.5 1483.1,3462.5 1485.1,3462.5 1487.1,3462.5 1489.1,3462.5 1491.1,3462.5 1493.1,3462.5 1495.1,3462.5 1497.1,3462.5 1499.1,3462.5 1501.1,3462.5 1503.1,3462.5 1505.1,3462.5 1507.1,3462.5 1509.1,3462.5 1511.1,3462.5 1513.1,3462.5 1515.1,3462.5 1517.1,3462.5 1519.1,3462.5 1521.1,3462.5 1523.1,3462.5 1525.1,3462.5 1527.1,3462.5 1529.1,3462.5 1531.2,3462.5 1533.2,3462.5 1535.2,3462.5 1537.2,3462.5 1539.2,3462.5 1541.2,3462.5 1543.2,3462.5 1545.2,3462.5 1547.2,3462.5 1549.2,3462.5 1551.2,3462.5 1553.2,3462.5 1555.2,3462.5 1557.2,3462.5 1559.2,3462.5 1561.2,3462.5 1563.2,3462.5 1565.2,3462.5 1567.2,3462.5 1569.2,3462.5 1571.2,3462.5 1573.2,3462.5 1575.2,3462.5 1577.2,3462.5 1579.2,3462.5 1581.2,3462.5 1583.2,3462.5 1585.2,3462.5 1587.2,3462.5 1589.2,3462.5 1591.2,3462.5 1593.2,3462.5 1595.2,3462.5 1597.2,3462.5 1599.2,3462.5 1601.2,3462.5 1603.2,3462.5 1605.2,3462.5 1607.2,3462.5 1609.2,3462.5 1611.2,3462.5 1613.2,3462.5 1615.2,3462.5 1617.2,3462.5 1619.2,3462.5 1621.2,3462.5 1623.2,3462.5 1625.2,3462.5 1627.2,3462.5 1629.2,3462.5 1631.2,3462.5 1633.2,3462.5 1635.2,3462.5 1637.2,3462.5 1639.2,3462.5 1641.2,3462.5 1643.2,3462.5 1645.2,3462.5 1647.2,3462.5 1649.2,3462.5 1651.2,3462.5 1653.2,3462.5 1655.2,3462.5 1657.2,3462.5 1659.2,3462.5 1661.2,3462.5 1663.2,3462.5 1665.2,3462.5 1667.2,3462.5 1669.2,3462.5 1671.2,3462.5 1673.2,3462.5 1675.2,3462.5 1677.2,3462.5 1679.2,3462.5 1681.2,3462.5 1683.2,3462.5 1685.2,3462.5 1687.2,3462.5 1689.2,3462.5 1691.2,3462.5 1693.2,3462.5 1695.2,3462.5 1697.2,3462.5 1699.2,3462.5 1701.2,3462.5 1703.2,3462.5 1705.2,3462.5 1707.2,3462.5 1709.2,3462.5 1711.2,3462.5 1713.2,3462.5 1715.2,3462.5 1717.2,3462.5 1719.2,3462.5 1721.2,3462.5 1723.2,3462.5 1725.2,3462.5 1727.2,3462.5 1729.2,3462.5 1731.2,3462.5 1733.3,3462.5 1735.3,3462.5 1737.3,3462.5 1739.3,3462.5 1741.3,3462.5 1743.3,3462.5 1745.3,3462.5 1747.3,3462.5 1749.3,3462.5 1751.3,3462.5 1753.3,3462.5 1755.3,3462.5 1757.3,3462.5 1759.3,3462.5 1761.3,3462.5 1763.3,3462.5 1765.3,3462.5 1767.3,3462.5 1769.3,3462.5 1771.3,3462.5 1773.3,3462.5 1775.3,3462.5 1777.3,3462.5 1779.3,3462.5 1781.3,3462.5 1783.3,3462.5 1785.3,3462.5 1787.3,3462.5 1789.3,3462.5 1791.3,3462.5 1793.3,3462.5 1795.3,3462.5 1797.3,3462.5 1799.3,3462.5 1801.3,3462.5 1803.3,3462.5 1805.3,3462.5 1807.3,3462.5 1809.3,3462.5 1811.3,3462.5 1813.3,3462.5 1815.3,3462.5 1817.3,3462.5 1819.3,3462.5 1821.3,3462.5 1823.3,3462.5 1825.3,3462.5 1827.3,3462.5 1829.3,3462.5 1831.3,3462.5 1833.3,3462.5 1835.3,3462.5 1837.3,3462.5 1839.3,3462.5 1841.3,3462.5 1843.3,3462.5 1845.3,3462.5 1847.3,3462.5 1849.3,3462.5 1851.3,3462.5 1853.3,3462.5 1855.3,3462.5 1857.3,3462.5 1859.3,3462.5 1861.3,3462.5 1863.3,3462.5 1865.3,3462.5 1867.3,3462.5 1869.3,3462.5 1871.3,3462.5 1873.3,3462.5 1875.3,3462.5 1877.3,3462.5 1879.3,3462.5 1881.3,3462.5 1883.3,3462.5 1885.3,3462.5 1887.3,3462.5 1889.3,3462.5 1891.3,3462.5 1893.3,3462.5 1895.3,3462.5 1897.3,3462.5 1899.3,3462.5 1901.3,3462.5 1903.3,3462.5 1905.3,3462.5 1907.3,3462.5 1909.3,3462.5 1911.3,3462.5 1913.3,3462.5 1915.3,3462.5 1917.3,3462.5 1919.3,3462.5 1921.3,3462.5 1923.3,3462.5 1925.3,3462.5 1927.3,3462.5 1929.3,3462.5 1931.3,3462.5 1933.4,3462.5 1935.4,3462.5 1937.4,3462.5 1939.4,3462.5 1941.4,3462.5 1943.4,3462.5 1945.4,3462.5 1947.4,3462.5 1949.4,3462.5 1951.4,3462.5 1953.4,3462.5 1955.4,3462.5 1957.4,3462.5 1959.4,3462.5 1961.4,3462.5 1963.4,3462.5 1965.4,3462.5 1967.4,3462.5 1969.4,3462.5 1971.4,3462.5 1973.4,3462.5 1975.4,3462.5 1977.4,3462.5 1979.4,3462.5 1981.4,3462.5 1983.4,3462.5 1985.4,3462.5 1987.4,3462.5 1989.4,3462.5 1991.4,3462.5 1993.4,3462.5 1995.4,3462.5 1997.4,3462.5 1999.4,3462.5 2001.4,3462.5 2003.4,3462.5 2005.4,3462.5 2007.4,3462.5 2009.4,3462.5 2011.4,3462.5 2013.4,3462.5 2015.4,3462.5 2017.4,3462.5 2019.4,3462.5 2021.4,3462.5 2023.4,3462.5 2025.4,3462.5 2027.4,3462.5 2029.4,3462.5 2031.4,3462.5 2033.4,3462.5 2035.4,3462.5 2037.4,3462.5 2039.4,3462.5 2041.4,3462.5 2043.4,3462.5 2045.4,3462.5 2047.4,3462.5 2049.4,3462.5 2051.4,3462.5 2053.4,3462.5 2055.4,3462.5 2057.4,3462.5 2059.4,3462.5 2061.4,3462.5 2063.4,3462.5 2065.4,3462.5 2067.4,3462.5 2069.4,3462.5 2071.4,3462.5 2073.4,3462.5 2075.4,3462.5 2077.4,3462.5 2079.4,3462.5 2081.4,3462.5 2083.4,3462.5 2085.4,3462.5 2087.4,3462.5 2089.4,3462.5 2091.4,3462.5 2093.4,3462.5 2095.4,3462.5 2097.4,3462.5 2099.4,3462.5 2101.4,3462.5 2103.4,3462.5 2105.4,3462.5 2107.4,3462.5 2109.4,3462.5 2111.4,3462.5 2113.4,3462.5 2115.4,3462.5 2117.4,3462.5 2119.4,3462.5 2121.4,3462.5 2123.4,3462.5 2125.4,3462.5 2127.4,3462.5 2129.4,3462.5 2131.4,3462.5 2133.4,3462.5 2135.5,3462.5 2137.5,3462.5 2139.5,3462.5 2141.5,3462.5 2143.5,3462.5 2145.5,3462.5 2147.5,3462.5 2149.5,3462.5 2151.5,3462.5 2153.5,3462.5 2155.5,3462.5 2157.5,3462.5 2159.5,3462.5 2161.5,3462.5 2163.5,3462.5 2165.5,3462.5 2167.5,3462.5 2169.5,3462.5 2171.5,3462.5 2173.5,3462.5 2175.5,3462.5 2177.5,3462.5 2179.5,3462.5 2181.5,3462.5 2183.5,3462.5 2185.5,3462.5 2187.5,3462.5 2189.5,3462.5 2191.5,3462.5 2193.5,3462.5 2195.5,3462.5 2197.5,3462.5 2199.5,3462.5 2201.5,3462.5 2203.5,3462.5 2205.5,3462.5 2207.5,3462.5 2209.5,3462.5 2211.5,3462.5 2213.5,3462.5 2215.5,3462.5 2217.5,3462.5 2219.5,3462.5 2221.5,3462.5 2223.5,3462.5 2225.5,3462.5 2227.5,3462.5 2229.5,3462.5 2231.5,3462.5 2233.5,3462.5 2235.5,3462.5" stroke="#ff0000" stroke-width="7.2"/>
<path d="M220.5,3462.5 222.5,3462.5 224.5,3462.5 226.5,3462.5 228.5,3462.5 230.5,3462.5 232.5,3462.5 234.5,3462.5 236.5,3462.5 238.5,3462.5 240.5,3462.5 242.5,3462.5 244.5,3462.5 246.5,3462.5 248.5,3462.5 250.5,3462.5 252.5,3462.5 254.5,3462.5 256.5,3462.5 258.5,3462.5 260.5,3462.5 262.5,3462.5 264.5,3462.5 266.5,3462.5 268.5,3462.5 270.5,3462.5 272.5,3462.5 274.5,3462.5 276.5,3462.5 278.5,3462.5 280.5,3462.5 282.5,3462.5 284.5,3462.5 286.5,3462.5 288.5,3462.5 290.5,3462.5 292.5,3462.5 294.5,3462.5 296.5,3462.5 298.5,3462.5 300.5,3462.5 302.5,3462.5 304.5,3462.5 306.5,3462.5 308.5,3462.5 310.5,3462.5 312.5,3462.5 314.5,3462.5 316.5,3462.5 318.5,3462.5 320.5,3462.5 322.5,3462.5 324.5,3462.5 326.5,3462.5 328.5,3462.5 330.5,3462.5 332.5,3462.5 334.5,3462.5 336.5,3462.5 338.5,3462.5 340.5,3462.5 342.5,3462.5 344.5,3462.5 346.5,3462.5 348.5,3462.5 350.5,3462.5 352.5,3464.4 354.5,3467.7 356.5,3472.1 358.5,3477.5 360.5,3483 362.5,3487.5 364.5,3490.1 366.5,3490.1 368.5,3487.7 370.5,3483.6 372.5,3478.4 374.5,3472.4 376.5,3465.9 378.5,3459.3 380.5,3452.5 382.5,3445.5 384.5,3438.5 386.5,3431.4 388.5,3424.3 390.5,3417.2 392.5,3410.1 394.5,3403 396.5,3396.1 398.5,3389.4 400.5,3383.1 402.5,3377.3 404.5,3371.9 406.5,3367.2 408.5,3363.2 410.5,3360.1 412.5,3357.8 414.5,3356.2 416.5,3355.4 418.5,3355.2 420.5,3355.7 422.5,3356.7 424.5,3358.4 426.5,3360.6 428.6,3363.5 430.6,3367.1 432.6,3371.5 434.6,3376.6 436.6,3382.7 438.6,3389.7 440.6,3397.7 442.6,3406.5 444.6,3416 446.6,3426.1 448.6,3436.9 450.6,3448.4 452.6,3460.6 454.6,3473.3 456.6,3486.5 458.6,3500.1 460.6,3513.9 462.6,3527.7 464.6,3541.5 466.6,3555.4 468.6,3569.3 470.6,3583.4 472.6,3597.8 474.6,3612.2 476.6,3626.7 478.6,3641.3 480.6,3655.7 482.6,3670 484.6,3684.2 486.6,3698.1 488.6,3711.8 490.6,3725.2 492.6,3738.3 494.6,3751.1 496.6,3763.6 498.6,3775.7 500.6,3787.5 502.6,3798.9 504.6,3809.9 506.6,3820.5 508.6,3830.7 510.6,3840.4 512.6,3849.7 514.6,3858.5 516.6,3866.8 518.6,3874.8 520.6,3882.2 522.6,3889.3 524.6,3895.9 526.6,3902.2 528.6,3907.9 530.6,3913.3 532.6,3918.2 534.6,3922.7 536.6,3926.8 538.6,3930.4 540.6,3933.6 542.6,3936.5 544.6,3939 546.6,3941.1 548.6,3942.9 550.6,3944.5 552.6,3945.7 554.6,3946.7 556.6,3947.4 558.6,3947.8 560.6,3948 562.6,3948 564.6,3947.7 566.6,3947.1 568.6,3946.3 570.6,3945.3 572.6,3944 574.6,3942.5 576.6,3940.8 578.6,3938.7 580.6,3936.5 582.7,3934 584.7,3931.2 586.7,3928.2 588.7,3925 590.7,3921.6 592.7,3917.9 594.7,3914.1 596.7,3909.9 598.7,3905.6 600.7,3901.1 602.7,3896.3 604.7,3891.3 606.7,3886 608.7,3880.6 610.7,3874.9 612.7,3869.1 614.7,3863 616.7,3856.8 618.7,3850.5 620.7,3844 622.7,3837.4 624.7,3830.6 626.7,3823.8 628.7,3816.8 630.7,3809.7 632.7,3802.5 634.7,3795.2 636.7,3787.9 638.7,3780.4 640.7,3772.9 642.7,3765.4 644.7,3757.9 646.7,3750.3 648.7,3742.8 650.7,3735.2 652.7,3727.8 654.7,3720.4 656.7,3713 658.7,3705.8 660.7,3698.6 662.7,3691.5 664.7,3684.5 666.7,3677.5 668.7,3670.6 670.7,3663.7 672.7,3656.8 674.7,3650 676.7,3643.1 678.7,3636.3 680.7,3629.5 682.7,3622.7 684.7,3616 686.7,3609.3 688.7,3602.6 690.7,3596.1 692.7,3589.5 694.7,3583.1 696.7,3576.8 698.7,3570.6 700.7,3564.5 702.7,3558.6 704.7,3552.9 706.7,3547.3 708.7,3541.8 710.7,3536.6 712.7,3531.6 714.7,3526.8 716.7,3522.1 718.7,3517.7 720.7,3513.4 722.7,3509.3 724.7,3505.4 726.7,3501.6 728.7,3497.9 730.7,3494.3 732.7,3490.9 734.7,3487.7 736.8,3484.5 738.8,3481.5 740.8,3478.5 742.8,3475.7 744.8,3473 746.8,3470.4 748.8,3467.9 750.8,3465.6 752.8,3463.3 754.8,3461.1 756.8,3459.1 758.8,3457.1 760.8,3455.3 762.8,3453.5 764.8,3451.9 766.8,3450.4 768.8,3449 770.8,3447.7 772.8,3446.5 774.8,3445.5 776.8,3444.5 778.8,3443.7 780.8,3442.9 782.8,3442.3 784.8,3441.7 786.8,3441.2 788.8,3440.8 790.8,3440.5 792.8,3440.3 794.8,3440.1 796.8,3440 798.8,3440 800.8,3440.1 802.8,3440.2 804.8,3440.4 806.8,3440.6 808.8,3440.9 810.8,3441.3 812.8,3441.7 814.8,3442.2 816.8,3442.7 818.8,3443.2 820.8,3443.8 822.8,3444.4 824.8,3445.1 826.8,3445.8 828.8,3446.5 830.8,3447.3 832.8,3448 834.8,3448.8 836.8,3449.6 838.8,3450.5 840.8,3451.3 842.8,3452.2 844.8,3453.1 846.8,3454 848.8,3454.9 850.8,3455.8 852.8,3456.7 854.8,3457.7 856.8,3458.6 858.8,3459.5 860.8,3460.4 862.8,3461.2 864.8,3462.1 866.8,3462.9 868.8,3463.7 870.8,3464.4 872.8,3465.1 874.8,3465.8 876.8,3466.4 878.8,3467 880.8,3467.6 882.8,3468.1 884.8,3468.6 886.8,3469 888.8,3469.4 890.9,3469.8 892.9,3470.1 894.9,3470.4 896.9,3470.7 898.9,3470.9 900.9,3471.1 902.9,3471.3 904.9,3471.5 906.9,3471.6 908.9,3471.7 910.9,3471.8 912.9,3471.9 914.9,3472 916.9,3472.1 918.9,3472.1 920.9,3472.1 922.9,3472.2 924.9,3472.2 926.9,3472.2 928.9,3472.2 930.9,3472.2 932.9,3472.1 934.9,3472.1 936.9,3472.1 938.9,3472 940.9,3472 942.9,3472 944.9,3471.9 946.9,3471.9 948.9,3471.8 950.9,3471.7 952.9,3471.7 954.9,3471.6 956.9,3471.5 958.9,3471.4 960.9,3471.3 962.9,3471.1 964.9,3471 966.9,3470.8 968.9,3470.7 970.9,3470.5 972.9,3470.3 974.9,3470.1 976.9,3469.9 978.9,3469.7 980.9,3469.4 982.9,3469.2 984.9,3469 986.9,3468.8 988.9,3468.5 990.9,3468.3 992.9,3468.1 994.9,3467.8 996.9,3467.6 998.9,3467.3 1000.9,3467.1 1002.9,3466.8 1004.9,3466.6 1006.9,3466.3 1008.9,3466.1 1010.9,3465.8 1012.9,3465.5 1014.9,3465.3 1016.9,3465 1018.9,3464.8 1020.9,3464.5 1022.9,3464.2 1024.9,3464 1026.9,3463.7 1028.9,3463.5 1030.9,3463.2 1032.9,3463 1034.9,3462.7 1036.9,3462.5 1038.9,3462.2 1040.9,3462 1043,3461.8 1045,3461.5 1047,3461.3 1049,3461 1051,3460.8 1053,3460.5 1055,3460.3 1057,3460 1059,3459.7 1061,3459.5 1063,3459.2 1065,3458.9 1067,3458.7 1069,3458.4 1071,3458.1 1073,3457.8 1075,3457.6 1077,3457.3 1079,3457 1081,3456.7 1083,3456.5 1085,3456.2 1087,3456 1089,3455.8 1091,3455.6 1093,3455.4 1095,3455.3 1097,3455.1 1099,3455 1101,3455 1103,3454.9 1105,3454.9 1107,3455 1109,3455 1111,3455.1 1113,3455.2 1115,3455.4 1117,3455.6 1119,3455.8 1121,3456 1123,3456.3 1125,3456.5 1127,3456.8 1129,3457.1 1131,3457.5 1133,3457.8 1135,3458.2 1137,3458.5 1139,3458.9 1141,3459.3 1143,3459.7 1145,3460.1 1147,3460.5 1149,3461 1151,3461.4 1153,3461.9 1155,3462.3 1157,3462.7 1159,3463.2 1161,3463.6 1163,3464.1 1165,3464.5 1167,3464.9 1169,3465.3 1171,3465.7 1173,3466.1 1175,3466.5 1177,3466.8 1179,3467.2 1181,3467.5 1183,3467.8 1185,3468.1 1187,3468.4 1189,3468.6 1191,3468.9 1193,3469.1 1195,3469.3 1197.1,3469.5 1199.1,3469.7 1201.1,3469.9 1203.1,3470.1 1205.1,3470.2 1207.1,3470.3 1209.1,3470.4 1211.1,3470.5 1213.1,3470.6 1215.1,3470.7 1217.1,3470.7 1219.1,3470.7 1221.1,3470.7 1223.1,3470.7 1225.1,3470.6 1227.1,3470.5 1229.1,3470.5 1231.1,3470.4 1233.1,3470.2 1235.1,3470.1 1237.1,3470 1239.1,3469.8 1241.1,3469.6 1243.1,3469.4 1245.1,3469.2 1247.1,3469 1249.1,3468.7 1251.1,3468.4 1253.1,3468.1 1255.1,3467.8 1257.1,3467.5 1259.1,3467.1 1261.1,3466.8 1263.1,3466.3 1265.1,3465.9 1267.1,3465.5 1269.1,3465 1271.1,3464.5 1273.1,3464 1275.1,3463.5 1277.1,3463 1279.1,3462.4 1281.1,3461.9 1283.1,3461.3 1285.1,3460.8 1287.1,3460.2 1289.1,3459.6 1291.1,3459 1293.1,3458.4 1295.1,3457.8 1297.1,3457.2 1299.1,3456.6 1301.1,3456 1303.1,3455.4 1305.1,3454.8 1307.1,3454.2 1309.1,3453.5 1311.1,3452.9 1313.1,3452.3 1315.1,3451.7 1317.1,3451.1 1319.1,3450.5 1321.1,3449.9 1323.1,3449.3 1325.1,3448.7 1327.1,3448.2 1329.1,3447.6 1331.1,3447.1 1333.1,3446.6 1335.1,3446.1 1337.1,3445.7 1339.1,3445.2 1341.1,3444.8 1343.1,3444.4 1345.1,3444 1347.1,3443.7 1349.1,3443.3 1351.2,3443 1353.2,3442.8 1355.2,3442.5 1357.2,3442.3 1359.2,3442.1 1361.2,3442 1363.2,3441.9 1365.2,3441.8 1367.2,3441.8 1369.2,3441.8 1371.2,3441.9 1373.2,3442 1375.2,3442.1 1377.2,3442.4 1379.2,3442.7 1381.2,3443.1 1383.2,3443.5 1385.2,3444.1 1387.2,3444.7 1389.2,3445.4 1391.2,3446.3 1393.2,3447.2 1395.2,3448.2 1397.2,3449.4 1399.2,3450.7 1401.2,3452 1403.2,3453.6 1405.2,3455.2 1407.2,3456.9 1409.2,3458.8 1411.2,3460.7 1413.2,3462.8 1415.2,3464.9 1417.2,3467.2 1419.2,3469.6 1421.2,3472.1 1423.2,3474.7 1425.2,3477.4 1427.2,3480.3 1429.2,3483.4 1431.2,3486.5 1433.2,3489.9 1435.2,3493.4 1437.2,3497 1439.2,3500.8 1441.2,3504.7 1443.2,3508.8 1445.2,3512.9 1447.2,3517.2 1449.2,3521.5 1451.2,3525.9 1453.2,3530.4 1455.2,3535 1457.2,3539.7 1459.2,3544.5 1461.2,3549.3 1463.2,3554.3 1465.2,3559.3 1467.2,3564.5 1469.2,3569.7 1471.2,3574.9 1473.2,3580.3 1475.2,3585.8 1477.2,3591.3 1479.2,3596.9 1481.2,3602.5 1483.2,3608.2 1485.2,3614 1487.2,3619.8 1489.2,3625.6 1491.2,3631.5 1493.2,3637.5 1495.2,3643.4 1497.2,3649.5 1499.2,3655.5 1501.2,3661.7 1503.2,3667.9 1505.3,3674.2 1507.3,3680.6 1509.3,3687.1 1511.3,3693.7 1513.3,3700.5 1515.3,3707.4 1517.3,3714.4 1519.3,3721.5 1521.3,3728.7 1523.3,3735.9 1525.3,3743.2 1527.3,3750.6 1529.3,3758 1531.3,3765.4 1533.3,3772.8 1535.3,3780.2 1537.3,3787.5 1539.3,3794.8 1541.3,3802 1543.3,3809.1 1545.3,3816 1547.3,3822.8 1549.3,3829.5 1551.3,3835.9 1553.3,3842.2 1555.3,3848.4 1557.3,3854.3 1559.3,3860.1 1561.3,3865.7 1563.3,3871.1 1565.3,3876.3 1567.3,3881.4 1569.3,3886.2 1571.3,3890.9 1573.3,3895.3 1575.3,3899.5 1577.3,3903.6 1579.3,3907.4 1581.3,3910.9 1583.3,3914.2 1585.3,3917.3 1587.3,3920.1 1589.3,3922.7 1591.3,3925 1593.3,3927 1595.3,3928.7 1597.3,3930.1 1599.3,3931.2 1601.3,3932 1603.3,3932.5 1605.3,3932.6 1607.3,3932.4 1609.3,3931.8 1611.3,3930.9 1613.3,3929.5 1615.3,3927.8 1617.3,3925.6 1619.3,3923 1621.3,3919.9 1623.3,3916.4 1625.3,3912.4 1627.3,3908.1 1629.3,3903.3 1631.3,3898.1 1633.3,3892.5 1635.3,3886.5 1637.3,3880.1 1639.3,3873.4 1641.3,3866.4 1643.3,3859 1645.3,3851.4 1647.3,3843.4 1649.3,3835.1 1651.3,3826.6 1653.3,3817.8 1655.3,3808.8 1657.3,3799.6 1659.4,3790.2 1661.4,3780.7 1663.4,3771 1665.4,3761.2 1667.4,3751.3 1669.4,3741.3 1671.4,3731.3 1673.4,3721.2 1675.4,3711.1 1677.4,3700.9 1679.4,3690.8 1681.4,3680.6 1683.4,3670.4 1685.4,3660.2 1687.4,3650.1 1689.4,3639.9 1691.4,3629.8 1693.4,3619.8 1695.4,3609.9 1697.4,3600 1699.4,3590.4 1701.4,3581 1703.4,3571.7 1705.4,3562.8 1707.4,3554.1 1709.4,3545.7 1711.4,3537.7 1713.4,3529.9 1715.4,3522.4 1717.4,3515.3 1719.4,3508.6 1721.4,3502.2 1723.4,3496.1 1725.4,3490.4 1727.4,3484.9 1729.4,3479.8 1731.4,3475 1733.4,3470.4 1735.4,3466 1737.4,3462 1739.4,3458.1 1741.4,3454.5 1743.4,3451 1745.4,3447.8 1747.4,3444.7 1749.4,3441.8 1751.4,3439.1 1753.4,3436.6 1755.4,3434.2 1757.4,3432 1759.4,3430 1761.4,3428.1 1763.4,3426.4 1765.4,3424.9 1767.4,3423.5 1769.4,3422.2 1771.4,3421.1 1773.4,3420.2 1775.4,3419.3 1777.4,3418.6 1779.4,3418 1781.4,3417.6 1783.4,3417.2 1785.4,3416.9 1787.4,3416.8 1789.4,3416.7 1791.4,3416.8 1793.4,3417 1795.4,3417.2 1797.4,3417.6 1799.4,3418 1801.4,3418.5 1803.4,3419.1 1805.4,3419.7 1807.4,3420.4 1809.4,3421.2 1811.4,3422.1 1813.5,3423 1815.5,3424 1817.5,3425 1819.5,3426.1 1821.5,3427.3 1823.5,3428.5 1825.5,3429.7 1827.5,3431 1829.5,3432.4 1831.5,3433.7 1833.5,3435.1 1835.5,3436.6 1837.5,3438 1839.5,3439.5 1841.5,3441 1843.5,3442.5 1845.5,3444 1847.5,3445.4 1849.5,3446.9 1851.5,3448.3 1853.5,3449.7 1855.5,3451 1857.5,3452.3 1859.5,3453.6 1861.5,3454.8 1863.5,3456 1865.5,3457.1 1867.5,3458.2 1869.5,3459.2 1871.5,3460.2 1873.5,3461.2 1875.5,3462 1877.5,3462.9 1879.5,3463.7 1881.5,3464.4 1883.5,3465.2 1885.5,3465.8 1887.5,3466.5 1889.5,3467.1 1891.5,3467.7 1893.5,3468.2 1895.5,3468.7 1897.5,3469.2 1899.5,3469.6 1901.5,3470 1903.5,3470.4 1905.5,3470.7 1907.5,3471 1909.5,3471.3 1911.5,3471.5 1913.5,3471.7 1915.5,3472 1917.5,3472.1 1919.5,3472.3 1921.5,3472.5 1923.5,3472.7 1925.5,3472.9 1927.5,3473 1929.5,3473.2 1931.5,3473.4 1933.5,3473.6 1935.5,3473.8 1937.5,3474 1939.5,3474.2 1941.5,3474.4 1943.5,3474.6 1945.5,3474.8 1947.5,3475 1949.5,3475.2 1951.5,3475.4 1953.5,3475.6 1955.5,3475.8 1957.5,3476 1959.5,3476.2 1961.5,3476.4 1963.5,3476.6 1965.5,3476.8 1967.6,3477 1969.6,3477.1 1971.6,3477.3 1973.6,3477.5 1975.6,3477.7 1977.6,3477.8 1979.6,3478 1981.6,3478.2 1983.6,3478.3 1985.6,3478.4 1987.6,3478.6 1989.6,3478.7 1991.6,3478.8 1993.6,3478.9 1995.6,3478.9 1997.6,3479 1999.6,3479 2001.6,3479.1 2003.6,3479.1 2005.6,3479.1 2007.6,3479.1 2009.6,3479.1 2011.6,3479.1 2013.6,3479 2015.6,3479 2017.6,3478.9 2019.6,3478.8 2021.6,3478.6 2023.6,3478.5 2025.6,3478.3 2027.6,3478.1 2029.6,3477.8 2031.6,3477.5 2033.6,3477.2 2035.6,3476.8 2037.6,3476.4 2039.6,3475.9 2041.6,3475.5 2043.6,3474.9 2045.6,3474.4 2047.6,3473.8 2049.6,3473.2 2051.6,3472.6 2053.6,3472 2055.6,3471.3 2057.6,3470.6 2059.6,3469.9 2061.6,3469.2 2063.6,3468.4 2065.6,3467.7 2067.6,3467 2069.6,3466.3 2071.6,3465.6 2073.6,3464.9 2075.6,3464.2 2077.6,3463.5 2079.6,3462.9 2081.6,3462.2 2083.6,3461.6 2085.6,3461 2087.6,3460.4 2089.6,3459.9 2091.6,3459.3 2093.6,3458.8 2095.6,3458.4 2097.6,3457.9 2099.6,3457.5 2101.6,3457.1 2103.6,3456.7 2105.6,3456.3 2107.6,3456 2109.6,3455.7 2111.6,3455.5 2113.6,3455.3 2115.6,3455.1 2117.6,3454.9 2119.6,3454.8 2121.7,3454.7 2123.7,3454.7 2125.7,3454.7 2127.7,3454.7 2129.7,3454.8 2131.7,3454.9 2133.7,3455.1 2135.7,3455.2 2137.7,3455.5 2139.7,3455.7 2141.7,3456 2143.7,3456.3 2145.7,3456.7 2147.7,3457 2149.7,3457.5 2151.7,3457.9 2153.7,3458.4 2155.7,3458.8 2157.7,3459.4 2159.7,3459.9 2161.7,3460.5 2163.7,3461 2165.7,3461.6 2167.7,3462.2 2169.7,3462.9 2171.7,3463.5 2173.7,3464.1 2175.7,3464.8 2177.7,3465.5 2179.7,3466.1 2181.7,3466.8 2183.7,3467.4 2185.7,3468.1 2187.7,3468.7 2189.7,3469.4 2191.7,3470 2193.7,3470.6 2195.7,3471.2 2197.7,3471.7 2199.7,3472.3 2201.7,3472.8 2203.7,3473.2 2205.7,3473.7 2207.7,3474.1 2209.7,3474.5 2211.7,3474.9 2213.7,3475.2 2215.7,3475.6 2217.7,3475.9 2219.7,3476.1 2221.7,3476.4 2223.7,3476.7 2225.7,3476.9 2227.7,3477.1 2229.7,3477.3 2231.7,3477.5 2233.7,3477.7 2235.7,3477.9" stroke="#008000"/>
<path d="M220.5,3462.5 222.5,3462.5 224.5,3462.5 226.6,3462.5 228.6,3462.5 230.6,3462.5 232.6,3462.5 234.7,3462.5 236.7,3462.5 238.7,3462.5 239,3462.5M254.8,3462.5 254.9,3462.5 256.9,3462.5 259,3462.5 261,3462.5 263,3462.5 265,3462.5 267.1,3462.5 269.1,3462.5 271.1,3462.5 273,3462.5M288.8,3462.5 289.3,3462.5 291.3,3462.5 293.4,3462.5 295.4,3462.5 297.4,3462.5 299.4,3462.5 301.5,3462.5 303.5,3462.5 305.5,3462.5 307,3462.5M322.8,3462.5 323.7,3462.5 325.8,3462.5 327.8,3462.5 329.8,3462.5 331.8,3462.5 333.9,3462.5 335.9,3462.5 337.9,3462.5 339.9,3462.5 341,3462.5M349.1,3472.8 350,3476.6 352,3488.8 352.2,3490M354.1,3504.4 356,3517.9 356.6,3521.2M360.7,3534.4 362,3533.7 364,3525.7 365.2,3518M367.1,3503.4 368,3495.9 369.2,3485.3M371,3469.4 372,3460.1 373,3450.5M374.7,3434.8 376,3422.5 376.7,3416.4M378.5,3400.8 380,3388.3 380.8,3382.4M383.1,3366.9 384,3360.3 385.9,3348.6M388.6,3333 390,3325.2 392,3315.9 392.3,3314.9M396.8,3300.1 398,3297.4 400,3294.6 402,3293.5 404,3294.1 406,3296.2 408,3299.7 408.4,3300.4M413.8,3315.4 414,3316.1 416,3323.5 418,3332 418.3,3333.3M421.5,3348.5 422.1,3351.1 424.1,3361 425.2,3366.6M428.4,3382.3 430.1,3390.5 432,3400.4M435.1,3415.9 436.1,3420.5 438.1,3430.2 438.9,3434M442.3,3449.4 444.1,3456.9 446.1,3464.6 446.8,3467.1M451.7,3481.5 452.1,3482.3 454.1,3486 456.1,3488.6 458.1,3490 460.1,3490.2 462.1,3489.5 464.1,3488.1 464.5,3487.7M474,3475.8 474.1,3475.6 476.1,3471.6 478.1,3466.9 480.1,3461.4 480.8,3459.4M485.1,3444.8 486.1,3440.9 488.1,3432.9 489.5,3427.1M492.9,3411.7 494.1,3406.6 496.1,3397.8 497.1,3393.4M500.7,3378.1 502.1,3371.7 504.1,3362.6 504.7,3360M508,3344.6 508.1,3344.2 510.1,3335.4 512.1,3327.1 512.3,3326.4M516.1,3311.1 518.1,3303.2 520.1,3294.9 520.6,3292.9M524.4,3277.4 526.1,3271.4 528.1,3265.4 530.1,3260.7 530.5,3259.9M540.2,3247.7 542.1,3246.1 544.1,3244.8 546.1,3243.8 548.1,3243.3 550.1,3243.1 552.1,3243.5 554.1,3244.2 556.1,3245.2 556.9,3245.7M568.4,3256.8 570.1,3259.3 572.2,3262.6 574.2,3266.5 576.2,3270.8 577.2,3273.3M583.1,3287.9 584.2,3290.7 586.2,3295.8 588.2,3300.8 589.9,3305.1M596.3,3319.8 598.2,3324.1 600.2,3328.8 602.2,3333.4 603.7,3337M609.9,3351.5 610.2,3352.1 612.2,3356.7 614.2,3361.3 616.2,3365.7 617.4,3368.4M624.2,3382.6 624.2,3382.6 626.2,3386.5 628.2,3390.4 630.2,3394.1 632.2,3397.7 632.9,3398.9M641,3412.1 642.2,3414 644.2,3416.9 646.2,3419.7 648.2,3422.4 650.2,3424.9 651.6,3426.6M661.8,3437.9 662.2,3438.3 664.2,3440.3 666.2,3442.2 668.2,3444 670.2,3445.8 672.2,3447.5 674.2,3449.1 675,3449.8M687.4,3458.7 688.2,3459.2 690.2,3460.4 692.2,3461.5 694.2,3462.6 696.2,3463.7 698.2,3464.7 700.2,3465.6 702.2,3466.4 702.7,3466.6M716.7,3471.3 718.2,3471.7 720.2,3472.2 722.3,3472.6 724.3,3473 726.3,3473.4 728.3,3473.7 730.3,3474.1 732.3,3474.4 733.1,3474.5M747,3475.8 748.3,3475.9 750.3,3476 752.3,3476.1 754.3,3476.2 756.3,3476.2 758.3,3476.3 760.3,3476.4 762.3,3476.4 763.5,3476.4M777.5,3476.1 778.3,3476 780.3,3475.9 782.3,3475.7 784.3,3475.5 786.3,3475.3 788.3,3475 790.3,3474.8 792.3,3474.5 793.9,3474.2M807.8,3471.3 808.3,3471.2 810.3,3470.7 812.3,3470.1 814.3,3469.6 816.3,3469.1 818.3,3468.5 820.3,3467.9 822.3,3467.4 824,3466.9M837.7,3463 838.3,3462.9 840.3,3462.4 842.3,3461.9 844.3,3461.4 846.3,3461 848.3,3460.6 850.3,3460.2 852.3,3459.9 854.1,3459.6M868.3,3458.1 868.3,3458.1 870.3,3458 872.4,3457.9 874.4,3457.8 876.4,3457.8 878.4,3457.8 880.4,3457.8 882.4,3457.8 884.4,3457.9 885,3457.9M899.2,3459 900.4,3459.1 902.4,3459.3 904.4,3459.6 906.4,3459.8 908.4,3460.1 910.4,3460.4 912.4,3460.7 914.4,3461.1 915.8,3461.3M930.1,3463.8 930.4,3463.8 932.4,3464.1 934.4,3464.4 936.4,3464.7 938.4,3465 940.4,3465.3 942.4,3465.6 944.4,3465.8 946.4,3466 946.9,3466.1M961.4,3467.1 962.4,3467.2 964.4,3467.2 966.4,3467.3 968.4,3467.3 970.4,3467.3 972.4,3467.3 974.4,3467.3 976.4,3467.2 978.4,3467.1M993.1,3466.1 994.4,3466 996.4,3465.8 998.4,3465.6 1000.4,3465.3 1002.4,3465.1 1004.4,3464.8 1006.4,3464.5 1008.4,3464.3 1010,3464M1024.6,3461.9 1026.5,3461.6 1028.5,3461.3 1030.5,3461 1032.5,3460.7 1034.5,3460.4 1036.5,3460.2 1038.5,3459.9 1040.5,3459.7 1041.4,3459.6M1055.8,3458.2 1056.5,3458.2 1058.5,3458.1 1060.5,3458 1062.5,3457.9 1064.5,3457.8 1066.5,3457.8 1068.5,3457.7 1070.5,3457.7 1072.5,3457.7 1072.8,3457.7M1087.3,3458 1088.5,3458.1 1090.5,3458.2 1092.5,3458.3 1094.5,3458.4 1096.5,3458.5 1098.5,3458.6 1100.5,3458.7 1102.5,3458.8 1104.3,3458.9M1118.8,3459.7 1120.5,3459.7 1122.5,3459.8 1124.5,3459.9 1126.5,3460 1128.5,3460 1130.5,3460.1 1132.5,3460.2 1134.5,3460.2 1135.5,3460.2M1150,3460.2 1150.5,3460.2 1152.5,3460.2 1154.5,3460.1 1156.5,3460.1 1158.5,3460 1160.5,3459.9 1162.5,3459.8 1164.5,3459.7 1166.5,3459.6 1167,3459.6M1181.2,3458.7 1182.6,3458.6 1184.6,3458.5 1186.6,3458.4 1188.6,3458.2 1190.6,3458.1 1192.6,3458 1194.6,3457.9 1196.6,3457.7 1198,3457.7M1212.2,3457.3 1212.6,3457.3 1214.6,3457.4 1216.6,3457.5 1218.6,3457.5 1220.6,3457.7 1222.6,3457.8 1224.6,3458 1226.6,3458.3 1228.6,3458.5 1228.9,3458.6M1242.8,3461.7 1244.6,3462.2 1246.6,3462.9 1248.6,3463.6 1250.6,3464.4 1252.6,3465.2 1254.6,3466.1 1256.6,3467 1258.3,3467.9M1271,3474.9 1272.6,3475.8 1274.6,3477.1 1276.6,3478.3 1278.6,3479.6 1280.6,3480.8 1282.6,3482.1 1284.6,3483.4 1285.8,3484.2M1298.2,3492.2 1298.6,3492.5 1300.6,3493.8 1302.6,3495.1 1304.6,3496.5 1306.6,3497.8 1308.6,3499.1 1310.6,3500.4 1312.6,3501.7 1313,3502M1325.8,3509.8 1326.7,3510.3 1328.7,3511.4 1330.7,3512.4 1332.7,3513.4 1334.7,3514.4 1336.7,3515.2 1338.7,3516.1 1340.7,3516.9 1341.9,3517.3M1356.3,3520.3 1356.7,3520.3 1358.7,3520.3 1360.7,3520.2 1362.7,3520.1 1364.7,3519.8 1366.7,3519.3 1368.7,3518.8 1370.7,3518.1 1372.7,3517.3 1373.3,3517M1385.4,3508.3 1386.7,3507 1388.7,3504.8 1390.7,3502.4 1392.7,3499.7 1394.7,3496.9 1396.4,3494.4M1404.4,3481.4 1404.7,3480.8 1406.7,3477.3 1408.7,3473.8 1410.7,3470.3 1412.7,3466.7 1413.5,3465.3M1420.9,3450.9 1422.7,3447 1424.7,3442.6 1426.7,3437.9 1428.5,3433.5M1434.4,3418.3 1434.7,3417.6 1436.7,3412.4 1438.7,3407.2 1440.7,3402 1441.2,3400.8M1447.1,3386 1448.7,3381.8 1450.7,3376.8 1452.7,3371.8 1453.9,3369M1459.7,3354.4 1460.7,3351.9 1462.7,3347 1464.7,3342.1 1466.6,3337.7M1473,3323.4 1474.8,3319.7 1476.8,3315.8 1478.8,3312.1 1480.8,3308.7 1481.6,3307.3M1490.8,3294.8 1492.8,3292.8 1494.8,3290.8 1496.8,3289.1 1498.8,3287.5 1500.8,3286.1 1502.8,3284.8 1504.8,3283.8 1505.1,3283.6M1519.9,3282.7 1520.8,3283 1522.8,3283.8 1524.8,3284.9 1526.8,3286.1 1528.8,3287.5 1530.8,3289.1 1532.8,3290.8 1534.7,3292.7M1545.1,3304.2 1546.8,3306.2 1548.8,3308.7 1550.8,3311.2 1552.8,3313.8 1554.8,3316.3 1556.5,3318.4M1566.3,3330.4 1566.8,3331.1 1568.8,3333.4 1570.8,3335.7 1572.8,3337.8 1574.8,3339.9 1576.8,3341.9 1578.8,3343.9 1578.9,3343.9M1590.5,3354.2 1590.8,3354.4 1592.8,3356 1594.8,3357.6 1596.8,3359.1 1598.8,3360.7 1600.8,3362.2 1602.8,3363.7 1604.8,3365.1 1605,3365.3M1617.7,3374.2 1618.8,3375 1620.8,3376.4 1622.9,3377.7 1624.9,3379 1626.9,3380.3 1628.9,3381.6 1630.9,3382.9 1632.9,3384.3 1632.9,3384.3M1645.1,3393.4 1646.9,3395 1648.9,3396.9 1650.9,3398.9 1652.9,3401 1654.9,3403.2 1656.9,3405.5 1657.6,3406.4M1667.3,3418.4 1668.9,3420.5 1670.9,3422.9 1672.9,3425.3 1674.9,3427.7 1676.9,3429.9 1678.9,3432.1 1679.3,3432.5M1690.6,3443.8 1690.9,3444.1 1692.9,3445.9 1694.9,3447.7 1696.9,3449.5 1698.9,3451.2 1700.9,3453 1702.9,3454.7 1704.5,3456M1717.1,3465.5 1718.9,3466.7 1720.9,3468 1722.9,3469.2 1724.9,3470.3 1726.9,3471.3 1728.9,3472.2 1730.9,3473.1 1732.7,3473.8M1746.7,3477.4 1746.9,3477.5 1748.9,3477.7 1750.9,3477.9 1752.9,3478 1754.9,3478.1 1756.9,3478.1 1758.9,3478.1 1760.9,3478 1762.9,3477.8 1763.4,3477.8M1777,3475.5 1779,3474.9 1781,3474.4 1783,3473.7 1785,3473.1 1787,3472.4 1789,3471.6 1791,3470.8 1792.8,3470M1806,3464 1807,3463.6 1809,3462.7 1811,3461.8 1813,3460.9 1815,3460.1 1817,3459.2 1819,3458.4 1821,3457.6 1822.3,3457.1M1837.2,3451.2 1839,3450.6 1841,3450 1843,3449.5 1845,3449 1847,3448.6 1849,3448.3 1851,3448 1853,3447.8 1855,3447.7 1855.5,3447.7M1871.2,3448.7 1873,3449.1 1875,3449.6 1877,3450.1 1879,3450.8 1881,3451.6 1883,3452.5 1885,3453.5 1887,3454.6 1888.5,3455.6M1900.3,3466.3 1901,3467.1 1903,3469.5 1905,3472 1907,3474.6 1909,3477.4 1911,3480.2 1911.7,3481.2M1920.5,3494.3 1921,3495 1923.1,3498.1 1925.1,3501.2 1927.1,3504.3 1929.1,3507.4 1930.7,3510M1940,3523 1941.1,3524.2 1943.1,3526.5 1945.1,3528.5 1947.1,3530.4 1949.1,3532.2 1951.1,3533.8 1953.1,3535.2 1953.6,3535.5M1968.5,3540.2 1969.1,3540.2 1971.1,3539.4 1973.1,3538.2 1975.1,3536.4 1977.1,3533.9 1979.1,3530.7 1980.9,3527.2M1986.5,3512.2 1987.1,3510.2 1989.1,3503.1 1991.1,3495.3 1991.3,3494.3M1994.9,3478.7 1995.1,3477.9 1997.1,3468.8 1999,3460.4M2002.4,3444.8 2003.1,3441.4 2005.1,3432.1 2006.2,3426.7M2009.4,3411 2011.1,3402 2012.8,3392.6M2015.4,3377.1 2017.1,3366.3 2018.3,3358.5M2020.7,3342.7 2021.1,3339.9 2023.1,3326.5 2023.4,3324.4M2025.8,3308.6 2027.1,3299.6 2028.5,3290M2030.9,3274.2 2031.1,3272.7 2033.1,3259.3 2033.6,3255.9M2036,3240.1 2037.1,3232.5 2038.8,3221.5M2041.1,3206 2041.1,3205.5 2043.1,3191.9 2043.8,3187.4M2046.1,3171.6 2047.1,3164.8 2048.9,3153M2051.4,3137.5 2053.1,3127.5 2054.7,3119M2058.4,3103.5 2059.1,3100.6 2061.1,3094.9 2063.1,3090.6 2065.1,3087.5 2065.9,3086.8M2078.5,3090.4 2079.2,3091.6 2081.2,3096 2083.2,3101.6 2085,3107.9M2088.8,3123.5 2089.2,3125.3 2091.2,3135.2 2092.3,3141.6M2095.1,3157.4 2095.2,3157.7 2097.2,3170.1 2098.1,3175.9M2100.4,3191.5 2101.2,3196.3 2103.2,3209.8 2103.2,3210M2105.5,3225.9 2107.2,3237.5 2108.1,3244.2M2110.3,3260 2111.2,3266.2 2112.9,3278.6M2115,3294.5 2115.2,3295.7 2117.2,3310.4 2117.5,3312.8M2119.7,3328.6 2121.2,3339 2122.4,3347.2M2124.8,3363 2125.2,3365.7 2127.2,3378 2127.8,3381.3M2130.6,3397 2131.2,3400.5 2133.2,3410.8 2134.1,3415.4M2137.4,3430.8 2139.2,3438.8 2141.2,3447.3 2141.7,3449.1M2145.8,3464.6 2147.2,3469.4 2149.2,3475.6 2151.2,3481 2151.5,3481.9M2158.6,3495.6 2159.2,3496.6 2161.2,3499.3 2163.2,3501.6 2165.2,3503.6 2167.2,3505.3 2169.2,3506.7 2171.2,3507.8 2171.4,3507.9M2186.2,3508 2187.2,3507.6 2189.2,3506.5 2191.2,3505.2 2193.2,3503.8 2195.2,3502.2 2197.2,3500.5 2199.2,3498.7 2200.4,3497.5M2211.2,3486.8 2211.2,3486.7 2213.2,3484.8 2215.2,3483 2217.2,3481.2 2219.2,3479.5 2221.2,3477.9 2223.2,3476.3 2224.9,3475.1" stroke="#0000ff"/>
</g>
<g class="tk" font-size="46.6">
<text transform="translate(219.9,4113.8) scale(0.94,1)" text-anchor="middle">0</text>
<text transform="translate(457.1,4113.8) scale(0.94,1)" text-anchor="middle">1</text>
<text transform="translate(694.4,4113.8) scale(0.94,1)" text-anchor="middle">2</text>
<text transform="translate(931.6,4113.8) scale(0.94,1)" text-anchor="middle">3</text>
<text transform="translate(1168.8,4113.8) scale(0.94,1)" text-anchor="middle">4</text>
<text transform="translate(1406.1,4113.8) scale(0.94,1)" text-anchor="middle">5</text>
<text transform="translate(1643.3,4113.8) scale(0.94,1)" text-anchor="middle">6</text>
<text transform="translate(1880.5,4113.8) scale(0.94,1)" text-anchor="middle">7</text>
<text transform="translate(2117.8,4113.8) scale(0.94,1)" text-anchor="middle">8</text>
<text transform="translate(2355,4113.8) scale(0.94,1)" text-anchor="middle">9</text>
<text transform="translate(203.7,4070) scale(0.94,1)" text-anchor="end">1.89</text>
<text transform="translate(203.7,3952.2) scale(0.94,1)" text-anchor="end">1.892</text>
<text transform="translate(203.7,3834.5) scale(0.94,1)" text-anchor="end">1.894</text>
<text transform="translate(203.7,3716.7) scale(0.94,1)" text-anchor="end">1.896</text>
<text transform="translate(203.7,3599) scale(0.94,1)" text-anchor="end">1.898</text>
<text transform="translate(203.7,3481.2) scale(0.94,1)" text-anchor="end">1.9</text>
<text transform="translate(203.7,3363.5) scale(0.94,1)" text-anchor="end">1.902</text>
<text transform="translate(203.7,3245.8) scale(0.94,1)" text-anchor="end">1.904</text>
<text transform="translate(203.7,3128) scale(0.94,1)" text-anchor="end">1.906</text>
<text transform="translate(203.7,3010.3) scale(0.94,1)" text-anchor="end">1.908</text>
</g>
<g class="tk" font-size="58.5">
<text x="1288" y="4186.9" text-anchor="middle">Time (second)</text>
<text transform="translate(70.1,3523.3) rotate(-90)" text-anchor="middle">z (m)</text>
</g>
<g class="lg" font-size="40.8">
<rect x="220.5" y="2991.5" width="819.8" height="176.9" fill="#fff" stroke="#262626" stroke-width="2.9"/>
<path d="M234.4,3024.6 H327.3" stroke="#ff0000" stroke-width="6.8" fill="none"/>
<text x="332.2" y="3041.4">desired output</text>
<path d="M234.4,3079.4 H327.3" stroke="#008000" stroke-width="6.8" fill="none"/>
<text x="332.2" y="3096.1">uncompensated output of RobotStudio</text>
<path d="M237.3,3135.2 H327.3" stroke="#0000ff" stroke-width="6.8" fill="none" stroke-dasharray="18.6 15.8"/>
<text x="332.2" y="3151.9">compensated output of RobotStudio</text>
</g>
<text class="cap" x="1230.5" y="4324.5" text-anchor="middle" font-size="77.7" transform="translate(1230.5,0) scale(0.92,1) translate(-1230.5,0)">(<tspan font-weight="bold">c</tspan>)</text>
</g>
</svg></body></html>
